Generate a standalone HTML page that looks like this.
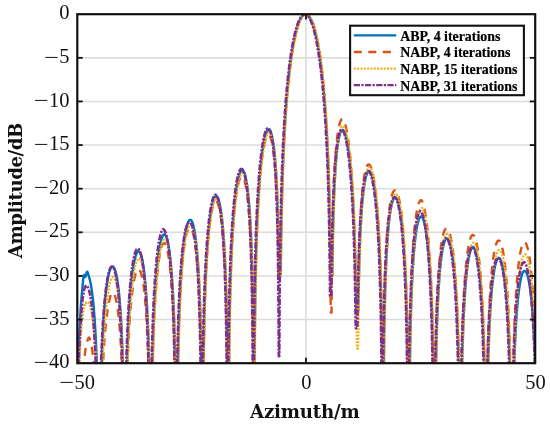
<!DOCTYPE html>
<html lang="en"><head><meta charset="utf-8"><title>Azimuth profile</title>
<style>html,body{margin:0;padding:0;background:#fff}svg{display:block}.tk{font-family:"Liberation Serif",serif;font-size:20.5px;fill:#111}.lb{font-family:"DejaVu Serif","Liberation Serif",serif;font-weight:bold;font-size:18.2px;fill:#111}.lg{font-family:"Liberation Serif",serif;font-weight:bold;font-size:13.9px;fill:#000;stroke:#000;stroke-width:0.2px}</style></head><body>
<svg width="550" height="425" viewBox="0 0 550 425">
<rect width="550" height="425" fill="#fff"/>
<defs><clipPath id="ax"><rect x="77.30" y="14.20" width="457.90" height="349.00"/></clipPath></defs>
<g stroke="#dcdcdc" stroke-width="1.6" fill="none">
<line x1="77.3" y1="57.83" x2="535.2" y2="57.83"/>
<line x1="77.3" y1="101.45" x2="535.2" y2="101.45"/>
<line x1="77.3" y1="145.07" x2="535.2" y2="145.07"/>
<line x1="77.3" y1="188.70" x2="535.2" y2="188.70"/>
<line x1="77.3" y1="232.32" x2="535.2" y2="232.32"/>
<line x1="77.3" y1="275.95" x2="535.2" y2="275.95"/>
<line x1="77.3" y1="319.57" x2="535.2" y2="319.57"/>
<line x1="306.00" y1="14.2" x2="306.00" y2="363.2"/>
</g>
<g clip-path="url(#ax)" fill="none" stroke-width="2.4" stroke-linejoin="round">
<polyline stroke="#0072BD" points="76.30,424.27 76.55,424.27 76.80,424.27 77.05,424.27 77.30,422.19 77.55,403.68 77.80,388.88 78.05,376.58 78.30,366.09 78.55,356.96 78.80,348.91 79.05,341.73 79.30,335.27 79.55,329.42 79.80,324.10 80.05,319.23 80.30,314.77 80.55,310.66 80.80,306.88 81.05,303.38 81.30,300.15 81.55,297.13 81.80,294.29 82.05,291.56 82.30,288.86 82.55,286.13 82.80,283.40 83.05,280.78 83.30,278.46 83.55,276.67 83.80,275.53 84.05,275.04 84.30,275.09 84.55,275.54 84.80,276.19 85.05,276.78 85.30,277.01 85.55,276.66 85.80,275.78 86.05,274.87 86.30,273.68 86.55,272.72 86.80,272.05 87.05,271.70 87.30,271.71 87.55,272.08 87.80,272.74 88.05,273.58 88.30,274.48 88.55,275.36 88.80,276.20 89.05,277.01 89.30,277.84 89.55,278.71 89.80,279.64 90.05,280.66 90.30,281.76 90.55,282.94 90.80,284.22 91.05,285.60 91.30,287.07 91.55,288.65 91.80,290.33 92.05,292.13 92.30,294.05 92.55,296.09 92.80,298.26 93.05,300.58 93.30,303.04 93.55,305.67 93.80,308.46 94.05,311.44 94.30,314.63 94.55,318.03 94.80,321.67 95.05,325.57 95.30,329.77 95.55,334.30 95.80,339.19 96.05,344.52 96.30,350.32 96.55,356.70 96.80,363.76 97.05,371.63 97.30,380.51 97.55,390.67 97.80,402.51 98.05,416.67 98.30,424.27 98.55,424.27 98.80,424.27 99.05,424.27 99.30,424.27 99.55,424.27 99.80,424.27 100.05,424.27 100.30,424.27 100.55,409.98 100.80,396.72 101.05,385.48 101.30,375.73 101.55,367.15 101.80,359.49 102.05,352.59 102.30,346.32 102.55,340.58 102.80,335.30 103.05,330.42 103.30,325.90 103.55,321.69 103.80,317.76 104.05,314.09 104.30,310.64 104.55,307.41 104.80,304.37 105.05,301.51 105.30,298.82 105.55,296.29 105.80,293.89 106.05,291.64 106.30,289.52 106.55,287.51 106.80,285.63 107.05,283.85 107.30,282.19 107.55,280.62 107.80,279.15 108.05,277.78 108.30,276.49 108.55,275.30 108.80,274.19 109.05,273.16 109.30,272.22 109.55,271.35 109.80,270.56 110.05,269.85 110.30,269.21 110.55,268.65 110.80,268.16 111.05,267.74 111.30,267.39 111.55,267.11 111.80,266.91 112.05,266.77 112.30,266.67 112.55,266.60 112.80,266.61 113.05,266.69 113.30,266.84 113.55,267.06 113.80,267.35 114.05,267.72 114.30,268.16 114.55,268.67 114.80,269.26 115.05,269.93 115.30,270.68 115.55,271.51 115.80,272.42 116.05,273.42 116.30,274.51 116.55,275.69 116.80,276.97 117.05,278.34 117.30,279.82 117.55,281.40 117.80,283.10 118.05,284.91 118.30,286.85 118.55,288.91 118.80,291.12 119.05,293.47 119.30,295.99 119.55,298.67 119.80,301.53 120.05,304.59 120.30,307.86 120.55,311.38 120.80,315.14 121.05,319.20 121.30,323.58 121.55,328.32 121.80,333.47 122.05,339.09 122.30,345.27 122.55,352.10 122.80,359.72 123.05,368.30 123.30,378.09 123.55,389.48 123.80,403.02 124.05,419.68 124.30,424.27 124.55,424.27 124.80,424.27 125.05,424.27 125.30,424.27 125.55,424.27 125.80,424.27 126.05,418.50 126.30,401.55 126.55,387.71 126.80,376.03 127.05,365.94 127.30,357.07 127.55,349.16 127.80,342.03 128.05,335.56 128.30,329.64 128.55,324.20 128.80,319.16 129.05,314.49 129.30,310.14 129.55,306.08 129.80,302.27 130.05,298.70 130.30,295.35 130.55,292.19 130.80,289.21 131.05,286.41 131.30,283.76 131.55,281.26 131.80,278.90 132.05,276.66 132.30,274.56 132.55,272.57 132.80,270.69 133.05,268.92 133.30,267.25 133.55,265.68 133.80,264.20 134.05,262.82 134.30,261.53 134.55,260.32 134.80,259.19 135.05,258.15 135.30,257.18 135.55,256.30 135.80,255.49 136.05,254.75 136.30,254.09 136.55,253.50 136.80,252.99 137.05,252.54 137.30,252.17 137.55,251.87 137.80,251.64 138.05,251.47 138.30,251.38 138.55,251.36 138.80,251.41 139.05,251.53 139.30,251.72 139.55,251.98 139.80,252.32 140.05,252.73 140.30,253.21 140.55,253.77 140.80,254.41 141.05,255.13 141.30,255.92 141.55,256.81 141.80,257.77 142.05,258.83 142.30,259.97 142.55,261.21 142.80,262.55 143.05,263.99 143.30,265.54 143.55,267.19 143.80,268.97 144.05,270.86 144.30,272.89 144.55,275.05 144.80,277.35 145.05,279.82 145.30,282.45 145.55,285.26 145.80,288.26 146.05,291.47 146.30,294.92 146.55,298.62 146.80,302.60 147.05,306.89 147.30,311.54 147.55,316.59 147.80,322.09 148.05,328.14 148.30,334.81 148.55,342.24 148.80,350.59 149.05,360.10 149.30,371.11 149.55,384.15 149.80,400.06 150.05,420.42 150.30,424.27 150.55,424.27 150.80,424.27 151.05,424.27 151.30,424.27 151.55,424.27 151.80,406.29 152.05,388.52 152.30,374.14 152.55,362.06 152.80,351.67 153.05,342.56 153.30,334.45 153.55,327.17 153.80,320.55 154.05,314.51 154.30,308.96 154.55,303.83 154.80,299.07 155.05,294.64 155.30,290.50 155.55,286.63 155.80,283.00 156.05,279.58 156.30,276.37 156.55,273.34 156.80,270.48 157.05,267.78 157.30,265.23 157.55,262.82 157.80,260.55 158.05,258.40 158.30,256.37 158.55,254.45 158.80,252.63 159.05,250.93 159.30,249.32 159.55,247.80 159.80,246.38 160.05,245.05 160.30,243.81 160.55,242.64 160.80,241.56 161.05,240.57 161.30,239.64 161.55,238.80 161.80,238.03 162.05,237.33 162.30,236.71 162.55,236.16 162.80,235.68 163.05,235.28 163.30,234.94 163.55,234.67 163.80,234.48 164.05,234.41 164.30,234.40 164.55,234.47 164.80,234.60 165.05,234.81 165.30,235.09 165.55,235.44 165.80,235.86 166.05,236.36 166.30,236.93 166.55,237.59 166.80,238.32 167.05,239.13 167.30,240.02 167.55,241.00 167.80,242.07 168.05,243.22 168.30,244.47 168.55,245.82 168.80,247.27 169.05,248.82 169.30,250.48 169.55,252.26 169.80,254.16 170.05,256.19 170.30,258.35 170.55,260.65 170.80,263.11 171.05,265.74 171.30,268.54 171.55,271.53 171.80,274.73 172.05,278.15 172.30,281.82 172.55,285.77 172.80,290.03 173.05,294.63 173.30,299.62 173.55,305.06 173.80,311.01 174.05,317.58 174.30,324.87 174.55,333.05 174.80,342.33 175.05,353.04 175.30,365.64 175.55,380.91 175.80,400.22 176.05,424.27 176.30,424.27 176.55,424.27 176.80,424.27 177.05,424.27 177.30,419.66 177.55,394.93 177.80,376.31 178.05,361.39 178.30,348.94 178.55,338.27 178.80,328.95 179.05,320.69 179.30,313.28 179.55,306.56 179.80,300.44 180.05,294.82 180.30,289.64 180.55,284.83 180.80,280.36 181.05,276.19 181.30,272.29 181.55,268.64 181.80,265.21 182.05,261.98 182.30,258.94 182.55,256.07 182.80,253.36 183.05,250.81 183.30,248.40 183.55,246.12 183.80,243.97 184.05,241.94 184.30,240.02 184.55,238.21 184.80,236.50 185.05,234.90 185.30,233.39 185.55,231.97 185.80,230.65 186.05,229.41 186.30,228.25 186.55,227.18 186.80,226.19 187.05,225.27 187.30,224.43 187.55,223.67 187.80,222.98 188.05,222.37 188.30,221.82 188.55,221.35 188.80,220.95 189.05,220.62 189.30,220.36 189.55,220.17 189.80,220.00 190.05,219.89 190.30,219.86 190.55,219.89 190.80,220.00 191.05,220.18 191.30,220.43 191.55,220.75 191.80,221.15 192.05,221.63 192.30,222.18 192.55,222.80 192.80,223.51 193.05,224.30 193.30,225.18 193.55,226.14 193.80,227.19 194.05,228.34 194.30,229.58 194.55,230.92 194.80,232.36 195.05,233.91 195.30,235.58 195.55,237.37 195.80,239.28 196.05,241.33 196.30,243.52 196.55,245.85 196.80,248.36 197.05,251.03 197.30,253.89 197.55,256.96 197.80,260.25 198.05,263.78 198.30,267.59 198.55,271.69 198.80,276.13 199.05,280.95 199.30,286.20 199.55,291.96 199.80,298.30 200.05,305.35 200.30,313.24 200.55,322.19 200.80,332.49 201.05,344.57 201.30,359.13 201.55,377.38 201.80,401.75 202.05,424.27 202.30,424.27 202.55,424.27 202.80,424.27 203.05,406.65 203.30,380.09 203.55,360.41 203.80,344.77 204.05,331.80 204.30,320.73 204.55,311.07 204.80,302.53 205.05,294.86 205.30,287.93 205.55,281.60 205.80,275.79 206.05,270.43 206.30,265.46 206.55,260.83 206.80,256.51 207.05,252.47 207.30,248.67 207.55,245.10 207.80,241.73 208.05,238.56 208.30,235.56 208.55,232.73 208.80,230.05 209.05,227.52 209.30,225.12 209.55,222.84 209.80,220.69 210.05,218.65 210.30,216.73 210.55,214.90 210.80,213.18 211.05,211.55 211.30,210.02 211.55,208.58 211.80,207.22 212.05,205.95 212.30,204.76 212.55,203.66 212.80,202.63 213.05,201.67 213.30,200.80 213.55,199.99 213.80,199.26 214.05,198.61 214.30,198.02 214.55,197.51 214.80,197.06 215.05,196.69 215.30,196.38 215.55,196.18 215.80,196.06 216.05,196.01 216.30,196.04 216.55,196.13 216.80,196.29 217.05,196.52 217.30,196.83 217.55,197.21 217.80,197.67 218.05,198.20 218.30,198.81 218.55,199.50 218.80,200.27 219.05,201.12 219.30,202.07 219.55,203.09 219.80,204.22 220.05,205.43 220.30,206.75 220.55,208.16 220.80,209.69 221.05,211.33 221.30,213.08 221.55,214.96 221.80,216.98 222.05,219.13 222.30,221.43 222.55,223.89 222.80,226.52 223.05,229.34 223.30,232.36 223.55,235.59 223.80,239.06 224.05,242.80 224.30,246.83 224.55,251.19 224.80,255.92 225.05,261.07 225.30,266.71 225.55,272.92 225.80,279.80 226.05,287.50 226.30,296.21 226.55,306.20 226.80,317.86 227.05,331.84 227.30,349.20 227.55,372.03 227.80,405.21 228.05,424.27 228.30,424.27 228.55,424.27 228.80,389.04 229.05,360.46 229.30,339.70 229.55,323.37 229.80,309.93 230.05,298.50 230.30,288.57 230.55,279.81 230.80,271.96 231.05,264.87 231.30,258.41 231.55,252.49 231.80,247.02 232.05,241.96 232.30,237.24 232.55,232.84 232.80,228.72 233.05,224.86 233.30,221.22 233.55,217.80 233.80,214.56 234.05,211.51 234.30,208.62 234.55,205.89 234.80,203.30 235.05,200.85 235.30,198.52 235.55,196.32 235.80,194.23 236.05,192.26 236.30,190.39 236.55,188.62 236.80,186.94 237.05,185.36 237.30,183.88 237.55,182.47 237.80,181.15 238.05,179.92 238.30,178.76 238.55,177.69 238.80,176.69 239.05,175.76 239.30,174.91 239.55,174.13 239.80,173.43 240.05,172.79 240.30,172.23 240.55,171.73 240.80,171.31 241.05,170.95 241.30,170.67 241.55,170.45 241.80,170.30 242.05,170.22 242.30,170.20 242.55,170.25 242.80,170.38 243.05,170.57 243.30,170.84 243.55,171.19 243.80,171.60 244.05,172.10 244.30,172.67 244.55,173.33 244.80,174.06 245.05,174.89 245.30,175.80 245.55,176.80 245.80,177.89 246.05,179.08 246.30,180.37 246.55,181.77 246.80,183.28 247.05,184.90 247.30,186.65 247.55,188.53 247.80,190.54 248.05,192.71 248.30,195.02 248.55,197.51 248.80,200.18 249.05,203.04 249.30,206.11 249.55,209.42 249.80,212.99 250.05,216.84 250.30,221.02 250.55,225.55 250.80,230.49 251.05,235.91 251.30,241.88 251.55,248.49 251.80,255.90 252.05,264.26 252.30,273.84 252.55,285.01 252.80,298.33 253.05,314.77 253.30,336.12 253.55,366.42 253.80,418.54 254.05,424.27 254.30,417.79 254.55,364.91 254.80,333.86 255.05,311.76 255.30,294.57 255.55,280.50 255.80,268.58 256.05,258.25 256.30,249.13 256.55,240.98 256.80,233.61 257.05,226.89 257.30,220.72 257.55,215.02 257.80,209.73 258.05,204.81 258.30,200.20 258.55,195.87 258.80,191.81 259.05,187.97 259.30,184.35 259.55,180.93 259.80,177.68 260.05,174.60 260.30,171.68 260.55,168.90 260.80,166.26 261.05,163.75 261.30,161.36 261.55,159.09 261.80,156.92 262.05,154.86 262.30,152.90 262.55,151.03 262.80,149.26 263.05,147.58 263.30,145.98 263.55,144.47 263.80,143.04 264.05,141.69 264.30,140.41 264.55,139.21 264.80,138.08 265.05,137.03 265.30,136.05 265.55,135.13 265.80,134.29 266.05,133.52 266.30,132.81 266.55,132.17 266.80,131.60 267.05,131.09 267.30,130.66 267.55,130.29 267.80,129.98 268.05,129.75 268.30,129.58 268.55,129.50 268.80,129.48 269.05,129.53 269.30,129.66 269.55,129.85 269.80,130.12 270.05,130.47 270.30,130.89 270.55,131.40 270.80,131.99 271.05,132.66 271.30,133.41 271.55,134.26 271.80,135.20 272.05,136.24 272.30,137.38 272.55,138.63 272.80,139.99 273.05,141.47 273.30,143.07 273.55,144.81 273.80,146.69 274.05,148.72 274.30,150.91 274.55,153.27 274.80,155.83 275.05,158.59 275.30,161.58 275.55,164.81 275.80,168.33 276.05,172.15 276.30,176.32 276.55,180.88 276.80,185.90 277.05,191.45 277.30,197.62 277.55,204.54 277.80,212.38 278.05,221.38 278.30,231.87 278.55,244.37 278.80,259.75 279.05,275.95 279.30,275.95 279.55,275.95 279.80,275.95 280.05,275.95 280.30,275.95 280.55,275.95 280.80,261.45 281.05,243.08 281.30,228.10 281.55,215.41 281.80,204.40 282.05,194.65 282.30,185.91 282.55,177.98 282.80,170.71 283.05,164.01 283.30,157.78 283.55,151.97 283.80,146.52 284.05,141.39 284.30,136.54 284.55,131.94 284.80,127.58 285.05,123.42 285.30,119.45 285.55,115.66 285.80,112.02 286.05,108.54 286.30,105.19 286.55,101.97 286.80,98.87 287.05,95.88 287.30,92.99 287.55,90.21 287.80,87.52 288.05,84.92 288.30,82.40 288.55,79.96 288.80,77.60 289.05,75.31 289.30,73.09 289.55,70.93 289.80,68.84 290.05,66.82 290.30,64.85 290.55,62.93 290.80,61.07 291.05,59.27 291.30,57.52 291.55,55.81 291.80,54.15 292.05,52.54 292.30,50.98 292.55,49.46 292.80,47.98 293.05,46.54 293.30,45.15 293.55,43.79 293.80,42.47 294.05,41.19 294.30,39.95 294.55,38.74 294.80,37.57 295.05,36.43 295.30,35.33 295.55,34.25 295.80,33.22 296.05,32.21 296.30,31.24 296.55,30.29 296.80,29.38 297.05,28.50 297.30,27.64 297.55,26.82 297.80,26.02 298.05,25.26 298.30,24.52 298.55,23.80 298.80,23.12 299.05,22.46 299.30,21.83 299.55,21.23 299.80,20.65 300.05,20.10 300.30,19.58 300.55,19.08 300.80,18.60 301.05,18.15 301.30,17.73 301.55,17.33 301.80,16.95 302.05,16.60 302.30,16.27 302.55,15.97 302.80,15.69 303.05,15.44 303.30,15.21 303.55,15.00 303.80,14.82 304.05,14.66 304.30,14.53 304.55,14.41 304.80,14.33 305.05,14.26 305.30,14.22 305.55,14.20 305.80,14.20 306.05,14.23 306.30,14.28 306.55,14.35 306.80,14.45 307.05,14.57 307.30,14.71 307.55,14.88 307.80,15.07 308.05,15.28 308.30,15.52 308.55,15.78 308.80,16.07 309.05,16.38 309.30,16.71 309.55,17.07 309.80,17.45 310.05,17.86 310.30,18.29 310.55,18.75 310.80,19.23 311.05,19.74 311.30,20.28 311.55,20.84 311.80,21.42 312.05,22.03 312.30,22.67 312.55,23.34 312.80,24.03 313.05,24.75 313.30,25.50 313.55,26.27 313.80,27.08 314.05,27.91 314.30,28.77 314.55,29.66 314.80,30.58 315.05,31.54 315.30,32.52 315.55,33.54 315.80,34.58 316.05,35.66 316.30,36.78 316.55,37.93 316.80,39.11 317.05,40.33 317.30,41.58 317.55,42.87 317.80,44.20 318.05,45.57 318.30,46.97 318.55,48.42 318.80,49.91 319.05,51.45 319.30,53.02 319.55,54.64 319.80,56.31 320.05,58.03 320.30,59.80 320.55,61.62 320.80,63.49 321.05,65.41 321.30,67.40 321.55,69.44 321.80,71.55 322.05,73.72 322.30,75.95 322.55,78.26 322.80,80.64 323.05,83.10 323.30,85.64 323.55,88.26 323.80,90.97 324.05,93.78 324.30,96.69 324.55,99.70 324.80,102.83 325.05,106.08 325.30,109.45 325.55,112.97 325.80,116.64 326.05,120.47 326.30,124.48 326.55,128.68 326.80,133.09 327.05,137.74 327.30,142.64 327.55,147.84 327.80,153.36 328.05,159.25 328.30,165.57 328.55,172.38 328.80,179.78 329.05,187.86 329.30,196.79 329.55,206.77 329.80,218.08 330.05,231.17 330.30,246.73 330.55,265.97 330.80,275.95 331.05,275.95 331.30,275.95 331.55,275.95 331.80,275.95 332.05,275.95 332.30,275.44 332.55,256.70 332.80,241.99 333.05,229.95 333.30,219.80 333.55,211.06 333.80,203.42 334.05,196.66 334.30,190.63 334.55,185.19 334.80,180.27 335.05,175.79 335.30,171.70 335.55,167.95 335.80,164.50 336.05,161.32 336.30,158.38 336.55,155.66 336.80,153.15 337.05,150.82 337.30,148.67 337.55,146.67 337.80,144.83 338.05,143.12 338.30,141.55 338.55,140.09 338.80,138.76 339.05,137.54 339.30,136.42 339.55,135.40 339.80,134.48 340.05,133.66 340.30,132.92 340.55,132.27 340.80,131.70 341.05,131.22 341.30,130.81 341.55,130.48 341.80,130.23 342.05,130.05 342.30,129.94 342.55,129.91 342.80,129.94 343.05,130.04 343.30,130.23 343.55,130.48 343.80,130.80 344.05,131.19 344.30,131.65 344.55,132.17 344.80,132.76 345.05,133.41 345.30,134.14 345.55,134.93 345.80,135.79 346.05,136.72 346.30,137.72 346.55,138.80 346.80,139.94 347.05,141.16 347.30,142.46 347.55,143.83 347.80,145.28 348.05,146.82 348.30,148.43 348.55,150.14 348.80,151.93 349.05,153.82 349.30,155.80 349.55,157.89 349.80,160.08 350.05,162.38 350.30,164.80 350.55,167.34 350.80,170.01 351.05,172.82 351.30,175.78 351.55,178.89 351.80,182.18 352.05,185.65 352.30,189.31 352.55,193.19 352.80,197.31 353.05,201.70 353.30,206.37 353.55,211.37 353.80,216.74 354.05,222.53 354.30,228.81 354.55,235.65 354.80,243.17 355.05,251.51 355.30,260.85 355.55,271.47 355.80,283.77 356.05,298.37 356.30,310.85 356.55,310.85 356.80,310.85 357.05,310.85 357.30,310.85 357.55,310.85 357.80,310.85 358.05,310.85 358.30,310.85 358.55,296.15 358.80,283.32 359.05,272.51 359.30,263.21 359.55,255.05 359.80,247.83 360.05,241.35 360.30,235.51 360.55,230.20 360.80,225.34 361.05,220.89 361.30,216.79 361.55,213.00 361.80,209.49 362.05,206.23 362.30,203.20 362.55,200.39 362.80,197.76 363.05,195.31 363.30,193.03 363.55,190.91 363.80,188.92 364.05,187.08 364.30,185.36 364.55,183.76 364.80,182.28 365.05,180.91 365.30,179.64 365.55,178.47 365.80,177.40 366.05,176.42 366.30,175.54 366.55,174.74 366.80,174.02 367.05,173.39 367.30,172.83 367.55,172.36 367.80,171.96 368.05,171.63 368.30,171.38 368.55,171.20 368.80,171.10 369.05,171.06 369.30,171.10 369.55,171.20 369.80,171.37 370.05,171.60 370.30,171.91 370.55,172.28 370.80,172.72 371.05,173.24 371.30,173.82 371.55,174.47 371.80,175.20 372.05,175.99 372.30,176.86 372.55,177.81 372.80,178.83 373.05,179.92 373.30,181.10 373.55,182.35 373.80,183.69 374.05,185.12 374.30,186.63 374.55,188.23 374.80,189.93 375.05,191.72 375.30,193.62 375.55,195.62 375.80,197.73 376.05,199.96 376.30,202.31 376.55,204.80 376.80,207.42 377.05,210.18 377.30,213.11 377.55,216.20 377.80,219.48 378.05,222.95 378.30,226.63 378.55,230.55 378.80,234.73 379.05,239.19 379.30,243.98 379.55,249.12 379.80,254.68 380.05,260.71 380.30,267.29 380.55,274.52 380.80,282.54 381.05,291.52 381.30,301.72 381.55,313.50 381.80,327.45 382.05,344.50 382.30,366.48 382.55,397.40 382.80,424.27 383.05,424.27 383.30,424.27 383.55,398.39 383.80,367.97 384.05,346.50 384.30,329.94 384.55,316.49 384.80,305.21 385.05,295.51 385.30,287.02 385.55,279.50 385.80,272.77 386.05,266.69 386.30,261.15 386.55,256.10 386.80,251.45 387.05,247.16 387.30,243.20 387.55,239.52 387.80,236.10 388.05,232.92 388.30,229.94 388.55,227.17 388.80,224.58 389.05,222.15 389.30,219.89 389.55,217.77 389.80,215.79 390.05,213.94 390.30,212.21 390.55,210.60 390.80,209.10 391.05,207.70 391.30,206.41 391.55,205.22 391.80,204.12 392.05,203.12 392.30,202.20 392.55,201.36 392.80,200.61 393.05,199.94 393.30,199.35 393.55,198.84 393.80,198.40 394.05,198.04 394.30,197.75 394.55,197.54 394.80,197.39 395.05,197.32 395.30,197.32 395.55,197.38 395.80,197.52 396.05,197.73 396.30,198.00 396.55,198.34 396.80,198.75 397.05,199.24 397.30,199.79 397.55,200.42 397.80,201.11 398.05,201.88 398.30,202.73 398.55,203.65 398.80,204.65 399.05,205.73 399.30,206.89 399.55,208.13 399.80,209.45 400.05,210.87 400.30,212.37 400.55,213.97 400.80,215.67 401.05,217.46 401.30,219.37 401.55,221.38 401.80,223.51 402.05,225.76 402.30,228.14 402.55,230.66 402.80,233.32 403.05,236.14 403.30,239.12 403.55,242.29 403.80,245.64 404.05,249.21 404.30,253.01 404.55,257.06 404.80,261.39 405.05,266.04 405.30,271.04 405.55,276.44 405.80,282.30 406.05,288.69 406.30,295.72 406.55,303.50 406.80,312.20 407.05,322.06 407.30,333.42 407.55,346.81 407.80,363.07 408.05,383.77 408.30,412.29 408.55,424.27 408.80,424.27 409.05,424.27 409.30,424.27 409.55,394.97 409.80,372.08 410.05,354.66 410.30,340.62 410.55,328.90 410.80,318.85 411.05,310.09 411.30,302.33 411.55,295.39 411.80,289.12 412.05,283.43 412.30,278.22 412.55,273.43 412.80,269.02 413.05,264.93 413.30,261.14 413.55,257.61 413.80,254.32 414.05,251.25 414.30,248.38 414.55,245.69 414.80,243.18 415.05,240.82 415.30,238.62 415.55,236.55 415.80,234.62 416.05,232.81 416.30,231.12 416.55,229.54 416.80,228.07 417.05,226.71 417.30,225.44 417.55,224.27 417.80,223.19 418.05,222.20 418.30,221.29 418.55,220.47 418.80,219.73 419.05,219.07 419.30,218.49 419.55,217.99 419.80,217.56 420.05,217.20 420.30,216.92 420.55,216.71 420.80,216.57 421.05,216.50 421.30,216.50 421.55,216.58 421.80,216.73 422.05,217.01 422.30,217.36 422.55,217.78 422.80,218.27 423.05,218.83 423.30,219.47 423.55,220.17 423.80,220.95 424.05,221.80 424.30,222.73 424.55,223.74 424.80,224.82 425.05,225.99 425.30,227.24 425.55,228.57 425.80,229.99 426.05,231.50 426.30,233.11 426.55,234.81 426.80,236.61 427.05,238.52 427.30,240.53 427.55,242.66 427.80,244.92 428.05,247.30 428.30,249.81 428.55,252.47 428.80,255.29 429.05,258.26 429.30,261.42 429.55,264.76 429.80,268.31 430.05,272.09 430.30,276.12 430.55,280.42 430.80,285.03 431.05,289.98 431.30,295.33 431.55,301.12 431.80,307.43 432.05,314.34 432.30,321.99 432.55,330.52 432.80,340.16 433.05,351.22 433.30,364.17 433.55,379.79 433.80,399.45 434.05,424.27 434.30,424.27 434.55,424.27 434.80,424.27 435.05,424.27 435.30,421.02 435.55,396.64 435.80,378.37 436.05,363.80 436.30,351.70 436.55,341.39 436.80,332.42 437.05,324.51 437.30,317.45 437.55,311.10 437.80,305.33 438.05,300.06 438.30,295.23 438.55,290.77 438.80,286.66 439.05,282.84 439.30,279.30 439.55,276.00 439.80,272.92 440.05,270.04 440.30,267.35 440.55,264.84 440.80,262.49 441.05,260.29 441.30,258.23 441.55,256.31 441.80,254.51 442.05,252.83 442.30,251.27 442.55,249.81 442.80,248.46 443.05,247.21 443.30,246.05 443.55,244.99 443.80,244.02 444.05,243.13 444.30,242.33 444.55,241.61 444.80,240.97 445.05,240.41 445.30,239.93 445.55,239.52 445.80,239.19 446.05,238.93 446.30,238.74 446.55,238.63 446.80,238.58 447.05,238.61 447.30,238.70 447.55,238.87 447.80,239.00 448.05,239.19 448.30,239.46 448.55,239.80 448.80,240.21 449.05,240.69 449.30,241.24 449.55,241.86 449.80,242.56 450.05,243.34 450.30,244.19 450.55,245.12 450.80,246.13 451.05,247.23 451.30,248.41 451.55,249.67 451.80,251.03 452.05,252.47 452.30,254.02 452.55,255.66 452.80,257.41 453.05,259.27 453.30,261.24 453.55,263.33 453.80,265.54 454.05,267.90 454.30,270.39 454.55,273.03 454.80,275.84 455.05,278.82 455.30,281.99 455.55,285.36 455.80,288.96 456.05,292.80 456.30,296.91 456.55,301.31 456.80,306.06 457.05,311.18 457.30,316.75 457.55,322.81 457.80,329.46 458.05,336.82 458.30,345.02 458.55,354.28 458.80,364.89 459.05,377.28 459.30,392.14 459.55,410.71 459.80,424.27 460.05,424.27 460.30,424.27 460.55,424.27 460.80,424.27 461.05,424.27 461.30,415.58 461.55,396.21 461.80,380.89 462.05,368.23 462.30,357.47 462.55,348.13 462.80,339.89 463.05,332.54 463.30,325.92 463.55,319.90 463.80,314.41 464.05,309.36 464.30,304.70 464.55,300.39 464.80,296.38 465.05,292.65 465.30,289.17 465.55,285.92 465.80,282.87 466.05,280.01 466.30,277.33 466.55,274.82 466.80,272.46 467.05,270.24 467.30,268.15 467.55,266.20 467.80,264.37 468.05,262.65 468.30,261.04 468.55,259.54 468.80,258.13 469.05,256.83 469.30,255.62 469.55,254.49 469.80,253.46 470.05,252.51 470.30,251.64 470.55,250.86 470.80,250.15 471.05,249.52 471.30,248.97 471.55,248.49 471.80,248.08 472.05,247.75 472.30,247.49 472.55,247.30 472.80,247.18 473.05,247.13 473.30,247.16 473.55,247.28 473.80,247.49 474.05,247.76 474.30,248.10 474.55,248.52 474.80,249.01 475.05,249.57 475.30,250.20 475.55,250.91 475.80,251.69 476.05,252.55 476.30,253.49 476.55,254.51 476.80,255.61 477.05,256.79 477.30,258.06 477.55,259.42 477.80,260.87 478.05,262.42 478.30,264.06 478.55,265.81 478.80,267.67 479.05,269.64 479.30,271.73 479.55,273.95 479.80,276.29 480.05,278.78 480.30,281.42 480.55,284.21 480.80,287.18 481.05,290.34 481.30,293.69 481.55,297.26 481.80,301.08 482.05,305.15 482.30,309.52 482.55,314.22 482.80,319.29 483.05,324.78 483.30,330.76 483.55,337.32 483.80,344.54 484.05,352.59 484.30,361.64 484.55,371.97 484.80,383.98 485.05,398.31 485.30,416.02 485.55,424.27 485.80,424.27 486.05,424.27 486.30,424.27 486.55,424.27 486.80,424.27 487.05,424.27 487.30,409.31 487.55,393.34 487.80,380.24 488.05,369.17 488.30,359.60 488.55,351.19 488.80,343.70 489.05,336.97 489.30,330.87 489.55,325.30 489.80,320.20 490.05,315.49 490.30,311.14 490.55,307.10 490.80,303.34 491.05,299.84 491.30,296.56 491.55,293.50 491.80,290.63 492.05,287.95 492.30,285.42 492.55,283.06 492.80,280.84 493.05,278.75 493.30,276.80 493.55,274.97 493.80,273.26 494.05,271.65 494.30,270.15 494.55,268.76 494.80,267.46 495.05,266.26 495.30,265.14 495.55,264.12 495.80,263.18 496.05,262.32 496.30,261.55 496.55,260.85 496.80,260.23 497.05,259.69 497.30,259.22 497.55,258.83 497.80,258.51 498.05,258.26 498.30,258.09 498.55,257.98 498.80,257.94 499.05,257.98 499.30,258.11 499.55,258.31 499.80,258.59 500.05,258.94 500.30,259.36 500.55,259.86 500.80,260.42 501.05,261.06 501.30,261.77 501.55,262.56 501.80,263.42 502.05,264.36 502.30,265.38 502.55,266.48 502.80,267.67 503.05,268.94 503.30,270.30 503.55,271.75 503.80,273.30 504.05,274.95 504.30,276.70 504.55,278.55 504.80,280.52 505.05,282.60 505.30,284.81 505.55,287.15 505.80,289.63 506.05,292.26 506.30,295.04 506.55,297.99 506.80,301.13 507.05,304.46 507.30,308.01 507.55,311.79 507.80,315.83 508.05,320.16 508.30,324.81 508.55,329.82 508.80,335.25 509.05,341.14 509.30,347.59 509.55,354.70 509.80,362.58 510.05,371.44 510.30,381.51 510.55,393.16 510.80,406.98 511.05,423.91 511.30,424.27 511.55,424.27 511.80,424.27 512.05,424.27 512.30,424.27 512.55,424.27 512.80,424.27 513.05,424.27 513.30,408.23 513.55,394.67 513.80,383.27 514.05,373.45 514.30,364.85 514.55,357.21 514.80,350.36 515.05,344.16 515.30,338.51 515.55,333.34 515.80,328.58 516.05,324.18 516.30,320.10 516.55,316.31 516.80,312.78 517.05,309.49 517.30,306.40 517.55,303.52 517.80,300.82 518.05,298.29 518.30,295.91 518.55,293.68 518.80,291.60 519.05,289.64 519.30,287.81 519.55,286.09 519.80,284.49 520.05,282.99 520.30,281.59 520.55,280.30 520.80,279.10 521.05,277.99 521.30,276.97 521.55,276.03 521.80,275.18 522.05,274.41 522.30,273.72 522.55,273.11 522.80,272.58 523.05,272.12 523.30,271.73 523.55,271.42 523.80,271.18 524.05,271.01 524.30,270.91 524.55,270.89 524.80,270.93 525.05,271.03 525.30,271.18 525.55,271.40 525.80,271.69 526.05,272.05 526.30,272.48 526.55,272.99 526.80,273.56 527.05,274.22 527.30,274.94 527.55,275.75 527.80,276.63 528.05,277.59 528.30,278.63 528.55,279.75 528.80,280.96 529.05,282.26 529.30,283.65 529.55,285.13 529.80,286.71 530.05,288.39 530.30,290.18 530.55,292.08 530.80,294.10 531.05,296.24 531.30,298.51 531.55,300.91 531.80,303.46 532.05,306.17 532.30,309.04 532.55,312.10 532.80,315.34 533.05,318.80 533.30,322.49 533.55,326.43 533.80,330.66 534.05,335.20 534.30,340.09 534.55,345.38 534.80,351.13 535.05,357.42 535.30,364.34 535.55,372.01 535.80,380.61 536.05,390.37"/>
<polyline stroke="#D95319" stroke-dasharray="8 6.5" points="76.30,424.27 76.55,424.27 76.80,424.27 77.05,424.27 77.30,424.27 77.55,424.27 77.80,424.27 78.05,424.27 78.30,424.27 78.55,424.27 78.80,424.27 79.05,424.27 79.30,424.27 79.55,424.27 79.80,424.27 80.05,424.27 80.30,424.27 80.55,419.93 80.80,414.42 81.05,409.21 81.30,404.27 81.55,399.57 81.80,395.10 82.05,390.85 82.30,386.79 82.55,382.93 82.80,379.24 83.05,375.73 83.30,372.37 83.55,369.18 83.80,366.13 84.05,363.23 84.30,360.48 84.55,357.86 84.80,355.38 85.05,353.03 85.30,350.81 85.55,348.73 85.80,346.77 86.05,345.80 86.30,344.70 86.55,343.68 86.80,342.73 87.05,341.84 87.30,341.03 87.55,340.29 87.80,339.63 88.05,339.03 88.30,338.51 88.55,338.07 88.80,337.71 89.05,337.42 89.30,337.77 89.55,338.33 89.80,338.97 90.05,339.70 90.30,340.51 90.55,341.43 90.80,342.44 91.05,343.55 91.30,344.76 91.55,346.09 91.80,347.53 92.05,349.09 92.30,350.79 92.55,352.61 92.80,354.58 93.05,356.71 93.30,358.99 93.55,361.46 93.80,364.11 94.05,366.98 94.30,370.07 94.55,373.41 94.80,377.02 95.05,380.94 95.30,385.21 95.55,389.87 95.80,394.97 96.05,400.59 96.30,406.82 96.55,413.78 96.80,421.63 97.05,424.27 97.30,424.27 97.55,424.27 97.80,424.27 98.05,424.27 98.30,424.27 98.55,424.27 98.80,424.27 99.05,424.27 99.30,424.27 99.55,424.27 99.80,424.27 100.05,424.27 100.30,424.27 100.55,424.27 100.80,422.11 101.05,412.53 101.30,404.01 101.55,396.34 101.80,389.37 102.05,383.00 102.30,377.12 102.55,371.68 102.80,366.62 103.05,361.90 103.30,357.47 103.55,353.32 103.80,349.41 104.05,345.72 104.30,342.24 104.55,338.95 104.80,335.83 105.05,332.87 105.30,330.06 105.55,327.39 105.80,324.86 106.05,322.46 106.30,320.18 106.55,318.01 106.80,315.94 107.05,313.99 107.30,312.13 107.55,310.37 107.80,308.70 108.05,307.13 108.30,305.63 108.55,304.23 108.80,302.90 109.05,301.66 109.30,300.50 109.55,299.41 109.80,298.40 110.05,297.46 110.30,296.60 110.55,295.80 110.80,295.08 111.05,294.44 111.30,293.86 111.55,293.35 111.80,292.91 112.05,292.73 112.30,292.62 112.55,292.58 112.80,292.61 113.05,292.71 113.30,292.88 113.55,293.13 113.80,293.45 114.05,293.84 114.30,294.31 114.55,294.86 114.80,295.48 115.05,296.19 115.30,296.97 115.55,297.85 115.80,298.81 116.05,299.85 116.30,301.00 116.55,302.23 116.80,303.57 117.05,305.01 117.30,306.57 117.55,308.23 117.80,310.02 118.05,311.93 118.30,313.98 118.55,316.16 118.80,318.50 119.05,321.01 119.30,323.68 119.55,326.54 119.80,329.61 120.05,332.90 120.30,336.44 120.55,340.24 120.80,344.35 121.05,348.79 121.30,353.61 121.55,358.87 121.80,364.63 122.05,370.97 122.30,378.02 122.55,385.92 122.80,394.88 123.05,405.18 123.30,417.27 123.55,424.27 123.80,424.27 124.05,424.27 124.30,424.27 124.55,424.27 124.80,424.27 125.05,424.27 125.30,424.27 125.55,424.27 125.80,424.27 126.05,417.54 126.30,404.58 126.55,393.52 126.80,383.87 127.05,375.33 127.30,367.68 127.55,360.75 127.80,354.44 128.05,348.64 128.30,343.29 128.55,338.33 128.80,333.71 129.05,329.41 129.30,325.37 129.55,321.59 129.80,318.03 130.05,314.68 130.30,311.52 130.55,308.54 130.80,305.72 131.05,303.06 131.30,300.54 131.55,298.15 131.80,295.89 132.05,293.76 132.30,291.74 132.55,289.83 132.80,288.02 133.05,286.32 133.30,284.71 133.55,283.19 133.80,281.77 134.05,280.43 134.30,279.18 134.55,278.01 134.80,276.93 135.05,275.92 135.30,274.99 135.55,274.13 135.80,273.35 136.05,272.64 136.30,272.01 136.55,271.44 136.80,270.95 137.05,270.53 137.30,270.18 137.55,269.90 137.80,269.68 138.05,269.52 138.30,269.43 138.55,269.42 138.80,269.47 139.05,269.60 139.30,269.80 139.55,270.07 139.80,270.41 140.05,270.84 140.30,271.33 140.55,271.91 140.80,272.57 141.05,273.31 141.30,274.13 141.55,275.04 141.80,276.03 142.05,277.12 142.30,278.31 142.55,279.60 142.80,280.98 143.05,282.48 143.30,284.09 143.55,285.82 143.80,287.67 144.05,289.66 144.30,291.78 144.55,294.06 144.80,296.49 145.05,299.10 145.30,301.89 145.55,304.88 145.80,308.09 146.05,311.54 146.30,315.26 146.55,319.27 146.80,323.60 147.05,328.31 147.30,333.44 147.55,339.06 147.80,345.25 148.05,352.12 148.30,359.80 148.55,368.49 148.80,378.46 149.05,390.11 149.30,404.07 149.55,421.42 149.80,424.27 150.05,424.27 150.30,424.27 150.55,424.27 150.80,424.27 151.05,424.27 151.30,424.27 151.55,411.81 151.80,395.47 152.05,382.02 152.30,370.58 152.55,360.65 152.80,351.88 153.05,344.02 153.30,336.93 153.55,330.46 153.80,324.53 154.05,319.06 154.30,313.99 154.55,309.28 154.80,304.88 155.05,300.75 155.30,296.89 155.55,293.25 155.80,289.82 156.05,286.59 156.30,283.54 156.55,280.65 156.80,277.92 157.05,275.34 157.30,272.89 157.55,270.57 157.80,268.38 158.05,266.30 158.30,264.33 158.55,262.47 158.80,260.71 159.05,259.04 159.30,257.48 159.55,256.00 159.80,254.61 160.05,253.30 160.30,252.08 160.55,250.94 160.80,249.88 161.05,248.90 161.30,247.99 161.55,247.16 161.80,246.40 162.05,245.71 162.30,245.10 162.55,244.55 162.80,244.08 163.05,243.68 163.30,243.35 163.55,243.17 163.80,243.11 164.05,243.12 164.30,243.21 164.55,243.36 164.80,243.59 165.05,243.89 165.30,244.26 165.55,244.70 165.80,245.22 166.05,245.82 166.30,246.50 166.55,247.25 166.80,248.08 167.05,249.00 167.30,250.01 167.55,251.10 167.80,252.29 168.05,253.57 168.30,254.95 168.55,256.43 168.80,258.01 169.05,259.71 169.30,261.53 169.55,263.47 169.80,265.54 170.05,267.75 170.30,270.11 170.55,272.62 170.80,275.31 171.05,278.17 171.30,281.24 171.55,284.52 171.80,288.03 172.05,291.80 172.30,295.86 172.55,300.24 172.80,304.98 173.05,310.14 173.30,315.76 173.55,321.94 173.80,328.77 174.05,336.39 174.30,344.97 174.55,354.77 174.80,366.16 175.05,379.70 175.30,396.36 175.55,417.93 175.80,424.27 176.05,424.27 176.30,424.27 176.55,424.27 176.80,424.27 177.05,417.05 177.30,395.18 177.55,378.23 177.80,364.39 178.05,352.71 178.30,342.62 178.55,333.75 178.80,325.84 179.05,318.71 179.30,312.24 179.55,306.32 179.80,300.87 180.05,295.83 180.30,291.16 180.55,286.81 180.80,282.74 181.05,278.93 181.30,275.36 181.55,272.00 181.80,268.84 182.05,265.86 182.30,263.05 182.55,260.40 182.80,257.90 183.05,255.53 183.30,253.30 183.55,251.19 183.80,249.19 184.05,247.31 184.30,245.53 184.55,243.86 184.80,242.29 185.05,240.81 185.30,239.42 185.55,238.12 185.80,236.90 186.05,235.77 186.30,234.72 186.55,233.75 186.80,232.86 187.05,232.04 187.30,231.30 187.55,230.64 187.80,230.04 188.05,229.52 188.30,229.07 188.55,228.69 188.80,228.38 189.05,228.14 189.30,227.94 189.55,227.76 189.80,227.65 190.05,227.62 190.30,227.65 190.55,227.76 190.80,227.93 191.05,228.18 191.30,228.51 191.55,228.91 191.80,229.38 192.05,229.93 192.30,230.56 192.55,231.28 192.80,232.07 193.05,232.95 193.30,233.92 193.55,234.98 193.80,236.13 194.05,237.38 194.30,238.73 194.55,240.19 194.80,241.76 195.05,243.44 195.30,245.25 195.55,247.18 195.80,249.26 196.05,251.47 196.30,253.85 196.55,256.39 196.80,259.11 197.05,262.02 197.30,265.14 197.55,268.50 197.80,272.11 198.05,275.99 198.30,280.20 198.55,284.75 198.80,289.71 199.05,295.12 199.30,301.07 199.55,307.65 199.80,314.99 200.05,323.25 200.30,332.67 200.55,343.59 200.80,356.53 201.05,372.34 201.30,392.61 201.55,420.68 201.80,424.27 202.05,424.27 202.30,424.27 202.55,424.27 202.80,401.14 203.05,377.81 203.30,359.95 203.55,345.47 203.80,333.30 204.05,322.81 204.30,313.60 204.55,305.40 204.80,298.01 205.05,291.31 205.30,285.17 205.55,279.51 205.80,274.29 206.05,269.43 206.30,264.90 206.55,260.66 206.80,256.69 207.05,252.95 207.30,249.44 207.55,246.12 207.80,242.99 208.05,240.03 208.30,237.23 208.55,234.58 208.80,232.07 209.05,229.70 209.30,227.44 209.55,225.31 209.80,223.28 210.05,221.37 210.30,219.56 210.55,217.84 210.80,216.23 211.05,214.70 211.30,213.26 211.55,211.91 211.80,210.65 212.05,209.46 212.30,208.35 212.55,207.33 212.80,206.37 213.05,205.50 213.30,204.69 213.55,203.96 213.80,203.31 214.05,202.72 214.30,202.20 214.55,201.76 214.80,201.38 215.05,201.09 215.30,200.95 215.55,200.87 215.80,200.87 216.05,200.93 216.30,201.07 216.55,201.28 216.80,201.55 217.05,201.91 217.30,202.34 217.55,202.84 217.80,203.42 218.05,204.08 218.30,204.81 218.55,205.63 218.80,206.54 219.05,207.53 219.30,208.61 219.55,209.79 219.80,211.06 220.05,212.43 220.30,213.91 220.55,215.49 220.80,217.20 221.05,219.02 221.30,220.97 221.55,223.05 221.80,225.28 222.05,227.66 222.30,230.20 222.55,232.92 222.80,235.83 223.05,238.95 223.30,242.29 223.55,245.89 223.80,249.75 224.05,253.93 224.30,258.44 224.55,263.35 224.80,268.71 225.05,274.58 225.30,281.06 225.55,288.27 225.80,296.36 226.05,305.56 226.30,316.17 226.55,328.69 226.80,343.87 227.05,363.09 227.30,389.19 227.55,424.27 227.80,424.27 228.05,424.27 228.30,418.97 228.55,382.00 228.80,357.18 229.05,338.46 229.30,323.44 229.55,310.90 229.80,300.14 230.05,290.73 230.30,282.37 230.55,274.86 230.80,268.06 231.05,261.84 231.30,256.12 231.55,250.84 231.80,245.93 232.05,241.37 232.30,237.10 232.55,233.10 232.80,229.34 233.05,225.81 233.30,222.48 233.55,219.34 233.80,216.37 234.05,213.56 234.30,210.90 234.55,208.38 234.80,206.00 235.05,203.74 235.30,201.60 235.55,199.58 235.80,197.66 236.05,195.85 236.30,194.13 236.55,192.52 236.80,190.99 237.05,189.55 237.30,188.20 237.55,186.93 237.80,185.74 238.05,184.64 238.30,183.61 238.55,182.65 238.80,181.78 239.05,180.97 239.30,180.24 239.55,179.58 239.80,178.99 240.05,178.47 240.30,178.02 240.55,177.63 240.80,177.32 241.05,177.08 241.30,176.91 241.55,176.80 241.80,176.74 242.05,176.74 242.30,176.81 242.55,176.96 242.80,177.17 243.05,177.47 243.30,177.83 243.55,178.27 243.80,178.79 244.05,179.39 244.30,180.07 244.55,180.83 244.80,181.68 245.05,182.61 245.30,183.64 245.55,184.77 245.80,185.99 246.05,187.31 246.30,188.75 246.55,190.29 246.80,191.96 247.05,193.75 247.30,195.67 247.55,197.74 247.80,199.95 248.05,202.33 248.30,204.87 248.55,207.61 248.80,210.55 249.05,213.70 249.30,217.11 249.55,220.77 249.80,224.74 250.05,229.05 250.30,233.73 250.55,238.85 250.80,244.46 251.05,250.67 251.30,257.57 251.55,265.33 251.80,274.13 252.05,284.29 252.30,296.22 252.55,310.64 252.80,328.74 253.05,352.95 253.30,389.32 253.55,424.27 253.80,424.27 254.05,398.28 254.30,357.09 254.55,330.37 254.80,310.53 255.05,294.73 255.30,281.60 255.55,270.36 255.80,260.55 256.05,251.83 256.30,244.00 256.55,236.90 256.80,230.40 257.05,224.42 257.30,218.88 257.55,213.74 257.80,208.93 258.05,204.43 258.30,200.21 258.55,196.23 258.80,192.47 259.05,188.92 259.30,185.56 259.55,182.38 259.80,179.36 260.05,176.48 260.30,173.75 260.55,171.16 260.80,168.69 261.05,166.34 261.30,164.10 261.55,161.97 261.80,159.94 262.05,158.01 262.30,156.17 262.55,154.43 262.80,152.77 263.05,151.20 263.30,149.71 263.55,148.30 263.80,146.97 264.05,145.72 264.30,144.54 264.55,143.43 264.80,142.40 265.05,141.44 265.30,140.54 265.55,139.72 265.80,138.96 266.05,138.28 266.30,137.66 266.55,137.10 266.80,136.62 267.05,136.20 267.30,135.85 267.55,135.56 267.80,135.35 268.05,135.19 268.30,135.09 268.55,135.06 268.80,135.11 269.05,135.22 269.30,135.41 269.55,135.67 269.80,136.01 270.05,136.43 270.30,136.93 270.55,137.51 270.80,138.18 271.05,138.93 271.30,139.78 271.55,140.72 271.80,141.76 272.05,142.91 272.30,144.16 272.55,145.53 272.80,147.02 273.05,148.64 273.30,150.40 273.55,152.29 273.80,154.35 274.05,156.57 274.30,158.97 274.55,161.57 274.80,164.38 275.05,167.43 275.30,170.73 275.55,174.33 275.80,178.24 276.05,182.53 276.30,187.23 276.55,192.41 276.80,198.16 277.05,204.57 277.30,211.80 277.55,220.04 277.80,229.54 278.05,240.72 278.30,254.20 278.55,271.07 278.80,275.95 279.05,275.95 279.30,275.95 279.55,275.95 279.80,275.95 280.05,275.95 280.30,275.95 280.55,257.35 280.80,240.47 281.05,226.46 281.30,214.47 281.55,203.96 281.80,194.61 282.05,186.17 282.30,178.48 282.55,171.42 282.80,164.87 283.05,158.78 283.30,153.08 283.55,147.73 283.80,142.67 284.05,137.89 284.30,133.35 284.55,129.04 284.80,124.92 285.05,120.98 285.30,117.22 285.55,113.61 285.80,110.14 286.05,106.81 286.30,103.60 286.55,100.50 286.80,97.52 287.05,94.64 287.30,91.85 287.55,89.16 287.80,86.55 288.05,84.03 288.30,81.58 288.55,79.21 288.80,76.91 289.05,74.68 289.30,72.52 289.55,70.41 289.80,68.37 290.05,66.39 290.30,64.46 290.55,62.58 290.80,60.76 291.05,58.99 291.30,57.27 291.55,55.59 291.80,53.96 292.05,52.37 292.30,50.83 292.55,49.33 292.80,47.87 293.05,46.46 293.30,45.08 293.55,43.74 293.80,42.43 294.05,41.17 294.30,39.93 294.55,38.74 294.80,37.58 295.05,36.45 295.30,35.35 295.55,34.29 295.80,33.26 296.05,32.26 296.30,31.29 296.55,30.35 296.80,29.44 297.05,28.56 297.30,27.71 297.55,26.89 297.80,26.09 298.05,25.33 298.30,24.59 298.55,23.88 298.80,23.19 299.05,22.54 299.30,21.91 299.55,21.30 299.80,20.72 300.05,20.17 300.30,19.64 300.55,19.14 300.80,18.66 301.05,18.21 301.30,17.78 301.55,17.38 301.80,17.00 302.05,16.64 302.30,16.31 302.55,16.01 302.80,15.72 303.05,15.47 303.30,15.23 303.55,15.02 303.80,14.83 304.05,14.67 304.30,14.53 304.55,14.41 304.80,14.32 305.05,14.25 305.30,14.20 305.55,14.14 305.80,14.10 306.05,14.08 306.30,14.09 306.55,14.13 306.80,14.18 307.05,14.26 307.30,14.36 307.55,14.49 307.80,14.64 308.05,14.81 308.30,15.01 308.55,15.23 308.80,15.48 309.05,15.75 309.30,16.05 309.55,16.36 309.80,16.71 310.05,17.08 310.30,17.47 310.55,17.89 310.80,18.34 311.05,18.81 311.30,19.30 311.55,19.83 311.80,20.37 312.05,20.95 312.30,21.55 312.55,22.18 312.80,22.84 313.05,23.53 313.30,24.24 313.55,24.98 313.80,25.75 314.05,26.55 314.30,27.38 314.55,28.24 314.80,29.14 315.05,30.06 315.30,31.01 315.55,32.00 315.80,33.02 316.05,34.07 316.30,35.16 316.55,36.29 316.80,37.44 317.05,38.64 317.30,39.87 317.55,41.14 317.80,42.45 318.05,43.80 318.30,45.19 318.55,46.63 318.80,48.10 319.05,49.62 319.30,51.19 319.55,52.81 319.80,54.47 320.05,56.18 320.30,57.95 320.55,59.77 320.80,61.65 321.05,63.58 321.30,65.57 321.55,67.63 321.80,69.75 322.05,71.95 322.30,74.21 322.55,76.54 322.80,78.96 323.05,81.46 323.30,84.04 323.55,86.72 323.80,89.49 324.05,92.37 324.30,95.35 324.55,98.45 324.80,101.68 325.05,105.04 325.30,108.54 325.55,112.20 325.80,116.03 326.05,120.04 326.30,124.24 326.55,128.67 326.80,133.35 327.05,138.29 327.30,143.54 327.55,149.13 327.80,155.11 328.05,161.55 328.30,168.51 328.55,176.09 328.80,184.42 329.05,193.66 329.30,204.06 329.55,215.94 329.80,229.84 330.05,246.61 330.30,267.82 330.55,296.84 330.80,312.60 331.05,312.60 331.30,312.60 331.55,312.60 331.80,281.89 332.05,259.46 332.30,242.49 332.55,228.90 332.80,217.61 333.05,208.00 333.30,199.66 333.55,192.32 333.80,185.79 334.05,179.94 334.30,174.65 334.55,169.84 334.80,165.45 335.05,161.42 335.30,157.72 335.55,154.30 335.80,151.15 336.05,148.23 336.30,145.52 336.55,143.01 336.80,140.68 337.05,138.52 337.30,136.51 337.55,134.65 337.80,132.92 338.05,131.33 338.30,129.85 338.55,128.49 338.80,127.23 339.05,126.08 339.30,125.03 339.55,124.08 339.80,123.21 340.05,122.44 340.30,121.75 340.55,121.14 340.80,120.61 341.05,120.16 341.30,119.79 341.55,119.50 341.80,119.27 342.05,119.12 342.30,119.04 342.55,119.03 342.80,119.13 343.05,119.39 343.30,119.71 343.55,120.10 343.80,120.56 344.05,121.08 344.30,121.67 344.55,122.33 344.80,123.06 345.05,123.85 345.30,124.71 345.55,125.64 345.80,126.64 346.05,127.72 346.30,128.86 346.55,130.08 346.80,131.37 347.05,132.74 347.30,134.18 347.55,135.71 347.80,137.32 348.05,139.01 348.30,140.80 348.55,142.67 348.80,144.64 349.05,146.70 349.30,148.87 349.55,151.15 349.80,153.54 350.05,156.05 350.30,158.68 350.55,161.45 350.80,164.36 351.05,167.42 351.30,170.65 351.55,174.04 351.80,177.63 352.05,181.42 352.30,185.44 352.55,189.70 352.80,194.24 353.05,199.08 353.30,204.27 353.55,209.84 353.80,215.86 354.05,222.40 354.30,229.54 354.55,237.41 354.80,246.16 355.05,256.02 355.30,267.29 355.55,280.46 355.80,296.30 356.05,310.85 356.30,310.85 356.55,310.85 356.80,310.85 357.05,310.85 357.30,310.85 357.55,310.85 357.80,310.85 358.05,296.75 358.30,282.37 358.55,270.48 358.80,260.36 359.05,251.59 359.30,243.87 359.55,237.01 359.80,230.84 360.05,225.26 360.30,220.18 360.55,215.54 360.80,211.27 361.05,207.34 361.30,203.71 361.55,200.35 361.80,197.23 362.05,194.33 362.30,191.63 362.55,189.12 362.80,186.79 363.05,184.61 363.30,182.58 363.55,180.70 363.80,178.95 364.05,177.32 364.30,175.81 364.55,174.42 364.80,173.13 365.05,171.94 365.30,170.86 365.55,169.87 365.80,168.97 366.05,168.16 366.30,167.44 366.55,166.79 366.80,166.23 367.05,165.75 367.30,165.35 367.55,165.02 367.80,164.77 368.05,164.59 368.30,164.49 368.55,164.45 368.80,164.49 369.05,164.59 369.30,164.71 369.55,164.90 369.80,165.16 370.05,165.49 370.30,165.88 370.55,166.35 370.80,166.89 371.05,167.49 371.30,168.17 371.55,168.92 371.80,169.74 372.05,170.64 372.30,171.61 372.55,172.65 372.80,173.78 373.05,174.98 373.30,176.26 373.55,177.63 373.80,179.09 374.05,180.63 374.30,182.27 374.55,184.00 374.80,185.83 375.05,187.76 375.30,189.80 375.55,191.96 375.80,194.23 376.05,196.63 376.30,199.16 376.55,201.84 376.80,204.66 377.05,207.65 377.30,210.81 377.55,214.16 377.80,217.71 378.05,221.48 378.30,225.49 378.55,229.78 378.80,234.36 379.05,239.28 379.30,244.58 379.55,250.31 379.80,256.55 380.05,263.37 380.30,270.90 380.55,279.27 380.80,288.70 381.05,299.48 381.30,312.04 381.55,327.07 381.80,345.80 382.05,370.64 382.30,407.63 382.55,424.27 382.80,424.27 383.05,418.48 383.30,377.92 383.55,351.83 383.80,332.62 384.05,317.46 384.30,304.96 384.55,294.36 384.80,285.18 385.05,277.10 385.30,269.91 385.55,263.45 385.80,257.59 386.05,252.25 386.30,247.36 386.55,242.86 386.80,238.71 387.05,234.86 387.30,231.28 387.55,227.95 387.80,224.85 388.05,221.96 388.30,219.25 388.55,216.72 388.80,214.36 389.05,212.15 389.30,210.08 389.55,208.15 389.80,206.34 390.05,204.66 390.30,203.09 390.55,201.63 390.80,200.27 391.05,199.02 391.30,197.86 391.55,196.80 391.80,195.82 392.05,194.93 392.30,194.13 392.55,193.40 392.80,192.76 393.05,192.20 393.30,191.71 393.55,191.30 393.80,190.97 394.05,190.70 394.30,190.51 394.55,190.39 394.80,190.34 395.05,190.36 395.30,190.46 395.55,190.62 395.80,190.77 396.05,190.98 396.30,191.26 396.55,191.61 396.80,192.02 397.05,192.51 397.30,193.07 397.55,193.71 397.80,194.42 398.05,195.20 398.30,196.06 398.55,196.99 398.80,198.01 399.05,199.11 399.30,200.29 399.55,201.56 399.80,202.92 400.05,204.36 400.30,205.91 400.55,207.55 400.80,209.30 401.05,211.15 401.30,213.12 401.55,215.20 401.80,217.41 402.05,219.75 402.30,222.23 402.55,224.86 402.80,227.65 403.05,230.61 403.30,233.76 403.55,237.11 403.80,240.67 404.05,244.48 404.30,248.54 404.55,252.90 404.80,257.59 405.05,262.65 405.30,268.14 405.55,274.11 405.80,280.65 406.05,287.86 406.30,295.89 406.55,304.94 406.80,315.26 407.05,327.26 407.30,341.57 407.55,359.26 407.80,382.42 408.05,415.94 408.30,424.27 408.55,424.27 408.80,424.27 409.05,401.11 409.30,372.87 409.55,352.44 409.80,336.45 410.05,323.34 410.30,312.26 410.55,302.67 410.80,294.24 411.05,286.74 411.30,279.99 411.55,273.87 411.80,268.28 412.05,263.16 412.30,258.43 412.55,254.06 412.80,250.00 413.05,246.23 413.30,242.70 413.55,239.41 413.80,236.33 414.05,233.44 414.30,230.73 414.55,228.19 414.80,225.80 415.05,223.56 415.30,221.45 415.55,219.48 415.80,217.62 416.05,215.89 416.30,214.26 416.55,212.74 416.80,211.32 417.05,210.00 417.30,208.77 417.55,207.63 417.80,206.59 418.05,205.62 418.30,204.74 418.55,203.94 418.80,203.22 419.05,202.58 419.30,202.01 419.55,201.52 419.80,201.10 420.05,200.75 420.30,200.48 420.55,200.27 420.80,200.14 421.05,200.08 421.30,200.08 421.55,200.30 421.80,200.67 422.05,201.12 422.30,201.63 422.55,202.22 422.80,202.88 423.05,203.61 423.30,204.41 423.55,205.29 423.80,206.24 424.05,207.27 424.30,208.37 424.55,209.56 424.80,210.82 425.05,212.17 425.30,213.61 425.55,215.13 425.80,216.75 426.05,218.46 426.30,220.27 426.55,222.18 426.80,224.19 427.05,226.32 427.30,228.57 427.55,230.94 427.80,233.44 428.05,236.08 428.30,238.87 428.55,241.81 428.80,244.93 429.05,248.22 429.30,251.72 429.55,255.42 429.80,259.37 430.05,263.57 430.30,268.06 430.55,272.86 430.80,278.04 431.05,283.62 431.30,289.67 431.55,296.28 431.80,303.54 432.05,311.59 432.30,320.60 432.55,330.83 432.80,342.64 433.05,356.61 433.30,373.70 433.55,395.70 433.80,424.27 434.05,424.27 434.30,424.27 434.55,424.27 434.80,424.27 435.05,397.40 435.30,375.96 435.55,359.43 435.80,346.03 436.05,334.78 436.30,325.11 436.55,316.67 436.80,309.19 437.05,302.49 437.30,296.45 437.55,290.95 437.80,285.94 438.05,281.33 438.30,277.09 438.55,273.16 438.80,269.52 439.05,266.15 439.30,263.00 439.55,260.08 439.80,257.34 440.05,254.80 440.30,252.42 440.55,250.19 440.80,248.12 441.05,246.18 441.30,244.38 441.55,242.70 441.80,241.13 442.05,239.68 442.30,238.33 442.55,237.09 442.80,235.95 443.05,234.90 443.30,233.94 443.55,233.07 443.80,232.29 444.05,231.58 444.30,230.97 444.55,230.43 444.80,229.97 445.05,229.58 445.30,229.27 445.55,229.03 445.80,228.87 446.05,228.78 446.30,228.76 446.55,228.81 446.80,228.93 447.05,229.12 447.30,229.31 447.55,229.43 447.80,229.63 448.05,229.90 448.30,230.24 448.55,230.65 448.80,231.14 449.05,231.69 449.30,232.32 449.55,233.03 449.80,233.81 450.05,234.67 450.30,235.61 450.55,236.62 450.80,237.73 451.05,238.91 451.30,240.19 451.55,241.55 451.80,243.01 452.05,244.57 452.30,246.23 452.55,248.00 452.80,249.87 453.05,251.87 453.30,253.98 453.55,256.23 453.80,258.61 454.05,261.14 454.30,263.82 454.55,266.67 454.80,269.70 455.05,272.92 455.30,276.35 455.55,280.02 455.80,283.94 456.05,288.14 456.30,292.65 456.55,297.51 456.80,302.78 457.05,308.51 457.30,314.77 457.55,321.66 457.80,329.31 458.05,337.88 458.30,347.62 458.55,358.85 458.80,372.10 459.05,388.23 459.30,408.81 459.55,424.27 459.80,424.27 460.05,424.27 460.30,424.27 460.55,424.27 460.80,419.23 461.05,396.22 461.30,378.67 461.55,364.50 461.80,352.65 462.05,342.48 462.30,333.58 462.55,325.70 462.80,318.63 463.05,312.24 463.30,306.42 463.55,301.08 463.80,296.17 464.05,291.63 464.30,287.42 464.55,283.50 464.80,279.85 465.05,276.44 465.30,273.24 465.55,270.25 465.80,267.44 466.05,264.80 466.30,262.32 466.55,259.99 466.80,257.80 467.05,255.75 467.30,253.82 467.55,252.00 467.80,250.30 468.05,248.71 468.30,247.23 468.55,245.84 468.80,244.54 469.05,243.34 469.30,242.23 469.55,241.21 469.80,240.26 470.05,239.40 470.30,238.63 470.55,237.92 470.80,237.30 471.05,236.75 471.30,236.28 471.55,235.88 471.80,235.55 472.05,235.29 472.30,235.10 472.55,234.99 472.80,234.94 473.05,234.97 473.30,235.08 473.55,235.26 473.80,235.51 474.05,235.83 474.30,236.23 474.55,236.69 474.80,237.23 475.05,237.84 475.30,238.53 475.55,239.29 475.80,240.13 476.05,241.05 476.30,242.05 476.55,243.13 476.80,244.30 477.05,245.56 477.30,246.90 477.55,248.34 477.80,249.87 478.05,251.51 478.30,253.25 478.55,255.10 478.80,257.07 479.05,259.16 479.30,261.38 479.55,263.73 479.80,266.22 480.05,268.87 480.30,271.68 480.55,274.67 480.80,277.86 481.05,281.24 481.30,284.86 481.55,288.72 481.80,292.86 482.05,297.31 482.30,302.10 482.55,307.28 482.80,312.91 483.05,319.06 483.30,325.81 483.55,333.30 483.80,341.67 484.05,351.14 484.30,362.04 484.55,374.83 484.80,390.29 485.05,409.79 485.30,424.27 485.55,424.27 485.80,424.27 486.05,424.27 486.30,424.27 486.55,424.27 486.80,405.86 487.05,387.43 487.30,372.70 487.55,360.44 487.80,349.97 488.05,340.85 488.30,332.78 488.55,325.56 488.80,319.04 489.05,313.11 489.30,307.69 489.55,302.69 489.80,298.08 490.05,293.81 490.30,289.84 490.55,286.13 490.80,282.67 491.05,279.44 491.30,276.40 491.55,273.56 491.80,270.89 492.05,268.38 492.30,266.02 492.55,263.81 492.80,261.73 493.05,259.77 493.30,257.94 493.55,256.22 493.80,254.60 494.05,253.10 494.30,251.69 494.55,250.38 494.80,249.16 495.05,248.03 495.30,246.99 495.55,246.04 495.80,245.16 496.05,244.37 496.30,243.65 496.55,243.01 496.80,242.45 497.05,241.96 497.30,241.55 497.55,241.21 497.80,240.94 498.05,240.74 498.30,240.61 498.55,240.55 498.80,240.56 499.05,240.62 499.30,240.75 499.55,240.94 499.80,241.21 500.05,241.55 500.30,241.96 500.55,242.45 500.80,243.00 501.05,243.64 501.30,244.34 501.55,245.13 501.80,245.99 502.05,246.93 502.30,247.96 502.55,249.07 502.80,250.27 503.05,251.55 503.30,252.93 503.55,254.41 503.80,255.99 504.05,257.67 504.30,259.46 504.55,261.36 504.80,263.38 505.05,265.53 505.30,267.82 505.55,270.24 505.80,272.82 506.05,275.56 506.30,278.48 506.55,281.58 506.80,284.89 507.05,288.41 507.30,292.19 507.55,296.23 507.80,300.57 508.05,305.25 508.30,310.31 508.55,315.81 508.80,321.81 509.05,328.39 509.30,335.68 509.55,343.82 509.80,353.02 510.05,363.56 510.30,375.88 510.55,390.69 510.80,409.18 511.05,424.27 511.30,424.27 511.55,424.27 511.80,424.27 512.05,424.27 512.30,424.27 512.55,413.61 512.80,394.17 513.05,378.78 513.30,366.06 513.55,355.24 513.80,345.83 514.05,337.53 514.30,330.12 514.55,323.43 514.80,317.36 515.05,311.80 515.30,306.69 515.55,301.97 515.80,297.59 516.05,293.52 516.30,289.73 516.55,286.18 516.80,282.86 517.05,279.75 517.30,276.84 517.55,274.09 517.80,271.52 518.05,269.09 518.30,266.81 518.55,264.67 518.80,262.65 519.05,260.75 519.30,258.97 519.55,257.30 519.80,255.74 520.05,254.27 520.30,252.91 520.55,251.63 520.80,250.45 521.05,249.35 521.30,248.34 521.55,247.41 521.80,246.57 522.05,245.80 522.30,245.11 522.55,244.49 522.80,243.95 523.05,243.49 523.30,243.09 523.55,242.77 523.80,242.52 524.05,242.34 524.30,242.23 524.55,242.20 524.80,242.27 525.05,242.43 525.30,242.67 525.55,242.97 525.80,243.34 526.05,243.79 526.30,244.30 526.55,244.89 526.80,245.56 527.05,246.30 527.30,247.11 527.55,248.01 527.80,248.98 528.05,250.04 528.30,251.18 528.55,252.41 528.80,253.73 529.05,255.13 529.30,256.64 529.55,258.24 529.80,259.95 530.05,261.77 530.30,263.70 530.55,265.74 530.80,267.92 531.05,270.22 531.30,272.67 531.55,275.26 531.80,278.02 532.05,280.94 532.30,284.06 532.55,287.37 532.80,290.90 533.05,294.67 533.30,298.71 533.55,303.04 533.80,307.69 534.05,312.72 534.30,318.17 534.55,324.11 534.80,330.62 535.05,337.81 535.30,345.81 535.55,354.83 535.80,365.12 536.05,377.09"/>
<polyline stroke="#EDB120" stroke-dasharray="2 1.33" points="76.30,424.27 76.55,424.27 76.80,424.27 77.05,424.27 77.30,424.27 77.55,424.27 77.80,419.54 78.05,407.18 78.30,396.63 78.55,387.44 78.80,379.33 79.05,372.09 79.30,365.58 79.55,359.67 79.80,354.29 80.05,349.37 80.30,344.84 80.55,340.68 80.80,336.84 81.05,333.29 81.30,330.01 81.55,326.98 81.80,324.18 82.05,321.59 82.30,319.20 82.55,317.00 82.80,314.98 83.05,313.12 83.30,311.44 83.55,309.90 83.80,308.52 84.05,307.29 84.30,306.20 84.55,305.24 84.80,304.43 85.05,303.74 85.30,303.19 85.55,302.77 85.80,302.48 86.05,302.91 86.30,302.65 86.55,302.46 86.80,302.27 87.05,302.11 87.30,302.02 87.55,302.00 87.80,302.05 88.05,302.17 88.30,302.36 88.55,302.63 88.80,302.97 89.05,303.39 89.30,303.88 89.55,304.45 89.80,305.10 90.05,305.83 90.30,306.65 90.55,307.55 90.80,308.54 91.05,309.63 91.30,310.80 91.55,312.08 91.80,313.46 92.05,314.94 92.30,316.54 92.55,318.26 92.80,320.09 93.05,322.06 93.30,324.17 93.55,326.43 93.80,328.84 94.05,331.43 94.30,334.19 94.55,337.16 94.80,340.33 95.05,343.75 95.30,347.42 95.55,351.38 95.80,355.66 96.05,360.30 96.30,365.35 96.55,370.88 96.80,376.96 97.05,383.69 97.30,391.21 97.55,399.70 97.80,409.40 98.05,420.68 98.30,424.27 98.55,424.27 98.80,424.27 99.05,424.27 99.30,424.27 99.55,424.27 99.80,424.27 100.05,424.27 100.30,424.27 100.55,424.27 100.80,424.27 101.05,417.75 101.30,405.98 101.55,395.79 101.80,386.82 102.05,378.82 102.30,371.59 102.55,365.03 102.80,359.01 103.05,353.47 103.30,348.34 103.55,343.57 103.80,339.12 104.05,334.96 104.30,331.06 104.55,327.40 104.80,323.94 105.05,320.69 105.30,317.62 105.55,314.72 105.80,311.97 106.05,309.38 106.30,306.92 106.55,304.59 106.80,302.39 107.05,300.30 107.30,298.33 107.55,296.46 107.80,294.70 108.05,293.03 108.30,291.46 108.55,289.98 108.80,288.59 109.05,287.29 109.30,286.07 109.55,284.93 109.80,283.87 110.05,282.89 110.30,281.98 110.55,281.15 110.80,280.40 111.05,279.71 111.30,279.10 111.55,278.56 111.80,278.10 112.05,277.70 112.30,277.37 112.55,277.14 112.80,277.03 113.05,276.99 113.30,277.02 113.55,277.12 113.80,277.30 114.05,277.54 114.30,277.86 114.55,278.25 114.80,278.71 115.05,279.26 115.30,279.87 115.55,280.57 115.80,281.35 116.05,282.22 116.30,283.17 116.55,284.20 116.80,285.33 117.05,286.55 117.30,287.87 117.55,289.29 117.80,290.82 118.05,292.46 118.30,294.22 118.55,296.09 118.80,298.10 119.05,300.24 119.30,302.53 119.55,304.98 119.80,307.59 120.05,310.38 120.30,313.37 120.55,316.57 120.80,319.99 121.05,323.68 121.30,327.64 121.55,331.91 121.80,336.54 122.05,341.58 122.30,347.07 122.55,353.09 122.80,359.75 123.05,367.16 123.30,375.50 123.55,384.99 123.80,395.99 124.05,409.00 124.30,424.27 124.55,424.27 124.80,424.27 125.05,424.27 125.30,424.27 125.55,424.27 125.80,424.27 126.05,424.27 126.30,424.27 126.55,413.21 126.80,398.81 127.05,386.72 127.30,376.31 127.55,367.19 127.80,359.07 128.05,351.76 128.30,345.14 128.55,339.08 128.80,333.51 129.05,328.36 129.30,323.59 129.55,319.14 129.80,314.99 130.05,311.10 130.30,307.45 130.55,304.02 130.80,300.79 131.05,297.75 131.30,294.88 131.55,292.16 131.80,289.60 132.05,287.18 132.30,284.89 132.55,282.72 132.80,280.67 133.05,278.74 133.30,276.91 133.55,275.19 133.80,273.57 134.05,272.04 134.30,270.60 134.55,269.26 134.80,268.00 135.05,266.82 135.30,265.73 135.55,264.72 135.80,263.78 136.05,262.92 136.30,262.14 136.55,261.43 136.80,260.79 137.05,260.23 137.30,259.74 137.55,259.32 137.80,258.96 138.05,258.68 138.30,258.48 138.55,258.35 138.80,258.30 139.05,258.32 139.30,258.41 139.55,258.57 139.80,258.80 140.05,259.10 140.30,259.48 140.55,259.93 140.80,260.46 141.05,261.07 141.30,261.75 141.55,262.51 141.80,263.36 142.05,264.29 142.30,265.31 142.55,266.43 142.80,267.63 143.05,268.93 143.30,270.33 143.55,271.84 143.80,273.46 144.05,275.19 144.30,277.04 144.55,279.02 144.80,281.14 145.05,283.40 145.30,285.81 145.55,288.39 145.80,291.15 146.05,294.09 146.30,297.25 146.55,300.63 146.80,304.26 147.05,308.16 147.30,312.37 147.55,316.93 147.80,321.88 148.05,327.27 148.30,333.18 148.55,339.70 148.80,346.95 149.05,355.09 149.30,364.33 149.55,374.99 149.80,387.54 150.05,402.77 150.30,422.03 150.55,424.27 150.80,424.27 151.05,424.27 151.30,424.27 151.55,424.27 151.80,424.27 152.05,416.45 152.30,397.79 152.55,382.81 152.80,370.32 153.05,359.62 153.30,350.25 153.55,341.95 153.80,334.49 154.05,327.74 154.30,321.57 154.55,315.91 154.80,310.69 155.05,305.84 155.30,301.33 155.55,297.12 155.80,293.18 156.05,289.48 156.30,286.01 156.55,282.74 156.80,279.65 157.05,276.75 157.30,274.00 157.55,271.41 157.80,268.95 158.05,266.63 158.30,264.44 158.55,262.37 158.80,260.41 159.05,258.56 159.30,256.82 159.55,255.17 159.80,253.62 160.05,252.17 160.30,250.80 160.55,249.52 160.80,248.33 161.05,247.21 161.30,246.18 161.55,245.23 161.80,244.35 162.05,243.55 162.30,242.82 162.55,242.17 162.80,241.59 163.05,241.08 163.30,240.64 163.55,240.27 163.80,239.97 164.05,239.74 164.30,239.65 164.55,239.63 164.80,239.68 165.05,239.80 165.30,240.00 165.55,240.26 165.80,240.60 166.05,241.01 166.30,241.49 166.55,242.05 166.80,242.68 167.05,243.40 167.30,244.19 167.55,245.07 167.80,246.03 168.05,247.08 168.30,248.22 168.55,249.45 168.80,250.78 169.05,252.20 169.30,253.74 169.55,255.38 169.80,257.13 170.05,259.00 170.30,261.00 170.55,263.14 170.80,265.42 171.05,267.84 171.30,270.43 171.55,273.20 171.80,276.15 172.05,279.30 172.30,282.68 172.55,286.30 172.80,290.19 173.05,294.39 173.30,298.91 173.55,303.82 173.80,309.17 174.05,315.01 174.30,321.45 174.55,328.58 174.80,336.57 175.05,345.61 175.30,356.00 175.55,368.17 175.80,382.82 176.05,401.16 176.30,424.27 176.55,424.27 176.80,424.27 177.05,424.27 177.30,424.27 177.55,424.27 177.80,404.51 178.05,384.92 178.30,369.38 178.55,356.50 178.80,345.52 179.05,335.96 179.30,327.50 179.55,319.93 179.80,313.09 180.05,306.86 180.30,301.14 180.55,295.88 180.80,291.00 181.05,286.47 181.30,282.24 181.55,278.29 181.80,274.59 182.05,271.11 182.30,267.84 182.55,264.77 182.80,261.86 183.05,259.13 183.30,256.54 183.55,254.11 183.80,251.80 184.05,249.62 184.30,247.57 184.55,245.63 184.80,243.80 185.05,242.07 185.30,240.45 185.55,238.92 185.80,237.49 186.05,236.14 186.30,234.88 186.55,233.71 186.80,232.62 187.05,231.61 187.30,230.68 187.55,229.83 187.80,229.05 188.05,228.35 188.30,227.72 188.55,227.16 188.80,226.68 189.05,226.26 189.30,225.92 189.55,225.64 189.80,225.44 190.05,225.24 190.30,225.09 190.55,225.01 190.80,225.00 191.05,225.07 191.30,225.20 191.55,225.41 191.80,225.69 192.05,226.04 192.30,226.47 192.55,226.97 192.80,227.56 193.05,228.22 193.30,228.97 193.55,229.79 193.80,230.71 194.05,231.71 194.30,232.81 194.55,234.00 194.80,235.29 195.05,236.68 195.30,238.18 195.55,239.80 195.80,241.53 196.05,243.39 196.30,245.38 196.55,247.51 196.80,249.79 197.05,252.23 197.30,254.84 197.55,257.63 197.80,260.63 198.05,263.84 198.30,267.29 198.55,271.01 198.80,275.02 199.05,279.36 199.30,284.07 199.55,289.20 199.80,294.82 200.05,301.01 200.30,307.87 200.55,315.55 200.80,324.25 201.05,334.22 201.30,345.87 201.55,359.82 201.80,377.17 202.05,399.98 202.30,424.27 202.55,424.27 202.80,424.27 203.05,424.27 203.30,416.92 203.55,388.33 203.80,367.55 204.05,351.21 204.30,337.75 204.55,326.31 204.80,316.37 205.05,307.59 205.30,299.74 205.55,292.64 205.80,286.17 206.05,280.23 206.30,274.76 206.55,269.68 206.80,264.96 207.05,260.55 207.30,256.42 207.55,252.55 207.80,248.91 208.05,245.47 208.30,242.23 208.55,239.17 208.80,236.28 209.05,233.54 209.30,230.95 209.55,228.49 209.80,226.16 210.05,223.96 210.30,221.87 210.55,219.89 210.80,218.02 211.05,216.24 211.30,214.57 211.55,212.99 211.80,211.50 212.05,210.10 212.30,208.78 212.55,207.54 212.80,206.39 213.05,205.32 213.30,204.32 213.55,203.40 213.80,202.55 214.05,201.78 214.30,201.07 214.55,200.44 214.80,199.89 215.05,199.40 215.30,198.98 215.55,198.63 215.80,198.40 216.05,198.28 216.30,198.22 216.55,198.24 216.80,198.32 217.05,198.48 217.30,198.71 217.55,199.01 217.80,199.38 218.05,199.83 218.30,200.36 218.55,200.96 218.80,201.64 219.05,202.40 219.30,203.25 219.55,204.18 219.80,205.20 220.05,206.31 220.30,207.52 220.55,208.82 220.80,210.22 221.05,211.73 221.30,213.36 221.55,215.10 221.80,216.96 222.05,218.96 222.30,221.09 222.55,223.37 222.80,225.80 223.05,228.41 223.30,231.19 223.55,234.18 223.80,237.37 224.05,240.81 224.30,244.50 224.55,248.47 224.80,252.77 225.05,257.43 225.30,262.50 225.55,268.05 225.80,274.14 226.05,280.89 226.30,288.42 226.55,296.91 226.80,306.63 227.05,317.93 227.30,331.38 227.55,347.95 227.80,369.44 228.05,399.87 228.30,424.27 228.55,424.27 228.80,424.27 229.05,398.93 229.30,368.02 229.55,346.06 229.80,329.02 230.05,315.09 230.30,303.31 230.55,293.13 230.80,284.16 231.05,276.15 231.30,268.93 231.55,262.36 231.80,256.35 232.05,250.80 232.30,245.67 232.55,240.90 232.80,236.45 233.05,232.28 233.30,228.37 233.55,224.70 233.80,221.24 234.05,217.98 234.30,214.90 234.55,211.99 234.80,209.23 235.05,206.62 235.30,204.15 235.55,201.81 235.80,199.59 236.05,197.49 236.30,195.50 236.55,193.62 236.80,191.84 237.05,190.16 237.30,188.57 237.55,187.07 237.80,185.65 238.05,184.33 238.30,183.09 238.55,181.92 238.80,180.84 239.05,179.83 239.30,178.90 239.55,178.04 239.80,177.26 240.05,176.55 240.30,175.90 240.55,175.33 240.80,174.83 241.05,174.40 241.30,174.04 241.55,173.75 241.80,173.53 242.05,173.37 242.30,173.28 242.55,173.25 242.80,173.29 243.05,173.40 243.30,173.58 243.55,173.84 243.80,174.16 244.05,174.57 244.30,175.05 244.55,175.61 244.80,176.24 245.05,176.96 245.30,177.77 245.55,178.66 245.80,179.64 246.05,180.72 246.30,181.89 246.55,183.16 246.80,184.54 247.05,186.02 247.30,187.62 247.55,189.35 247.80,191.20 248.05,193.18 248.30,195.32 248.55,197.60 248.80,200.05 249.05,202.68 249.30,205.50 249.55,208.53 249.80,211.79 250.05,215.31 250.30,219.10 250.55,223.21 250.80,227.67 251.05,232.52 251.30,237.84 251.55,243.69 251.80,250.17 252.05,257.40 252.30,265.55 252.55,274.87 252.80,285.68 253.05,298.51 253.30,314.22 253.55,334.37 253.80,362.33 254.05,407.85 254.30,424.27 254.55,424.27 254.80,376.02 255.05,342.21 255.30,318.76 255.55,300.78 255.80,286.17 256.05,273.88 256.30,263.26 256.55,253.93 256.80,245.60 257.05,238.08 257.30,231.24 257.55,224.97 257.80,219.18 258.05,213.81 258.30,208.82 258.55,204.15 258.80,199.77 259.05,195.65 259.30,191.78 259.55,188.11 259.80,184.65 260.05,181.37 260.30,178.26 260.55,175.31 260.80,172.50 261.05,169.83 261.30,167.30 261.55,164.88 261.80,162.59 262.05,160.40 262.30,158.32 262.55,156.34 262.80,154.45 263.05,152.66 263.30,150.96 263.55,149.35 263.80,147.82 264.05,146.37 264.30,145.00 264.55,143.71 264.80,142.50 265.05,141.36 265.30,140.29 265.55,139.29 265.80,138.36 266.05,137.51 266.30,136.72 266.55,136.00 266.80,135.35 267.05,134.76 267.30,134.24 267.55,133.79 267.80,133.41 268.05,133.09 268.30,132.84 268.55,132.66 268.80,132.54 269.05,132.49 269.30,132.51 269.55,132.60 269.80,132.76 270.05,132.99 270.30,133.31 270.55,133.69 270.80,134.16 271.05,134.71 271.30,135.34 271.55,136.06 271.80,136.87 272.05,137.77 272.30,138.77 272.55,139.87 272.80,141.08 273.05,142.40 273.30,143.83 273.55,145.39 273.80,147.08 274.05,148.90 274.30,150.88 274.55,153.02 274.80,155.33 275.05,157.82 275.30,160.52 275.55,163.44 275.80,166.61 276.05,170.04 276.30,173.78 276.55,177.85 276.80,182.31 277.05,187.21 277.30,192.63 277.55,198.65 277.80,205.39 278.05,213.01 278.30,221.73 278.55,231.87 278.80,243.89 279.05,258.58 279.30,275.95 279.55,275.95 279.80,275.95 280.05,275.95 280.30,275.95 280.55,275.95 280.80,275.95 281.05,267.72 281.30,248.45 281.55,232.87 281.80,219.77 282.05,208.44 282.30,198.45 282.55,189.50 282.80,181.40 283.05,173.99 283.30,167.16 283.55,160.82 283.80,154.91 284.05,149.37 284.30,144.16 284.55,139.23 284.80,134.57 285.05,130.14 285.30,125.92 285.55,121.90 285.80,118.05 286.05,114.36 286.30,110.83 286.55,107.43 286.80,104.17 287.05,101.02 287.30,97.99 287.55,95.07 287.80,92.24 288.05,89.51 288.30,86.87 288.55,84.32 288.80,81.84 289.05,79.44 289.30,77.12 289.55,74.86 289.80,72.68 290.05,70.55 290.30,68.49 290.55,66.49 290.80,64.55 291.05,62.66 291.30,60.82 291.55,59.04 291.80,57.30 292.05,55.62 292.30,53.98 292.55,52.38 292.80,50.83 293.05,49.33 293.30,47.86 293.55,46.44 293.80,45.05 294.05,43.70 294.30,42.40 294.55,41.12 294.80,39.89 295.05,38.69 295.30,37.52 295.55,36.39 295.80,35.29 296.05,34.23 296.30,33.20 296.55,32.20 296.80,31.22 297.05,30.29 297.30,29.38 297.55,28.50 297.80,27.65 298.05,26.82 298.30,26.03 298.55,25.27 298.80,24.53 299.05,23.82 299.30,23.14 299.55,22.48 299.80,21.85 300.05,21.25 300.30,20.67 300.55,20.12 300.80,19.59 301.05,19.09 301.30,18.62 301.55,18.17 301.80,17.74 302.05,17.34 302.30,16.97 302.55,16.62 302.80,16.29 303.05,15.98 303.30,15.71 303.55,15.45 303.80,15.22 304.05,15.01 304.30,14.83 304.55,14.67 304.80,14.53 305.05,14.41 305.30,14.32 305.55,14.26 305.80,14.21 306.05,14.19 306.30,14.19 306.55,14.20 306.80,14.24 307.05,14.31 307.30,14.40 307.55,14.51 307.80,14.64 308.05,14.80 308.30,14.98 308.55,15.19 308.80,15.42 309.05,15.68 309.30,15.95 309.55,16.26 309.80,16.58 310.05,16.93 310.30,17.31 310.55,17.71 310.80,18.14 311.05,18.59 311.30,19.06 311.55,19.57 311.80,20.09 312.05,20.65 312.30,21.23 312.55,21.83 312.80,22.47 313.05,23.13 313.30,23.81 313.55,24.53 313.80,25.27 314.05,26.04 314.30,26.84 314.55,27.67 314.80,28.53 315.05,29.42 315.30,30.34 315.55,31.29 315.80,32.27 316.05,33.29 316.30,34.34 316.55,35.42 316.80,36.53 317.05,37.68 317.30,38.86 317.55,40.08 317.80,41.34 318.05,42.63 318.30,43.97 318.55,45.34 318.80,46.75 319.05,48.21 319.30,49.70 319.55,51.24 319.80,52.83 320.05,54.46 320.30,56.14 320.55,57.87 320.80,59.65 321.05,61.49 321.30,63.38 321.55,65.32 321.80,67.33 322.05,69.39 322.30,71.52 322.55,73.72 322.80,75.99 323.05,78.32 323.30,80.74 323.55,83.23 323.80,85.81 324.05,88.48 324.30,91.24 324.55,94.10 324.80,97.07 325.05,100.14 325.30,103.34 325.55,106.66 325.80,110.13 326.05,113.74 326.30,117.51 326.55,121.45 326.80,125.58 327.05,129.93 327.30,134.50 327.55,139.32 327.80,144.43 328.05,149.86 328.30,155.64 328.55,161.85 328.80,168.53 329.05,175.77 329.30,183.68 329.55,192.40 329.80,202.12 330.05,213.11 330.30,225.77 330.55,240.73 330.80,259.07 331.05,275.95 331.30,275.95 331.55,275.95 331.80,275.95 332.05,275.95 332.30,275.95 332.55,275.95 332.80,257.18 333.05,241.78 333.30,229.25 333.55,218.74 333.80,209.72 334.05,201.86 334.30,194.91 334.55,188.71 334.80,183.14 335.05,178.10 335.30,173.51 335.55,169.32 335.80,165.47 336.05,161.94 336.30,158.68 336.55,155.66 336.80,152.88 337.05,150.30 337.30,147.91 337.55,145.70 337.80,143.64 338.05,141.74 338.30,139.98 338.55,138.35 338.80,136.85 339.05,135.47 339.30,134.19 339.55,133.03 339.80,131.97 340.05,131.00 340.30,130.13 340.55,129.35 340.80,128.65 341.05,128.04 341.30,127.51 341.55,127.07 341.80,126.70 342.05,126.40 342.30,126.18 342.55,126.03 342.80,125.95 343.05,125.95 343.30,126.01 343.55,126.17 343.80,126.41 344.05,126.72 344.30,127.10 344.55,127.54 344.80,128.05 345.05,128.63 345.30,129.27 345.55,129.98 345.80,130.76 346.05,131.61 346.30,132.53 346.55,133.52 346.80,134.57 347.05,135.71 347.30,136.91 347.55,138.19 347.80,139.55 348.05,140.99 348.30,142.50 348.55,144.11 348.80,145.79 349.05,147.57 349.30,149.44 349.55,151.41 349.80,153.47 350.05,155.64 350.30,157.92 350.55,160.32 350.80,162.83 351.05,165.48 351.30,168.26 351.55,171.19 351.80,174.27 352.05,177.52 352.30,180.95 352.55,184.58 352.80,188.42 353.05,192.49 353.30,196.82 353.55,201.43 353.80,206.36 354.05,211.66 354.30,217.36 354.55,223.53 354.80,230.26 355.05,237.63 355.30,245.79 355.55,254.92 355.80,265.25 356.05,277.18 356.30,291.25 356.55,308.45 356.80,330.55 357.05,348.37 357.30,348.37 357.55,348.37 357.80,348.37 358.05,348.37 358.30,332.84 358.55,311.49 358.80,295.06 359.05,281.74 359.30,270.58 359.55,261.01 359.80,252.65 360.05,245.25 360.30,238.64 360.55,232.67 360.80,227.26 361.05,222.32 361.30,217.80 361.55,213.63 361.80,209.78 362.05,206.22 362.30,202.91 362.55,199.84 362.80,196.98 363.05,194.32 363.30,191.84 363.55,189.53 363.80,187.37 364.05,185.36 364.30,183.49 364.55,181.75 364.80,180.13 365.05,178.62 365.30,177.23 365.55,175.94 365.80,174.76 366.05,173.67 366.30,172.68 366.55,171.77 366.80,170.95 367.05,170.22 367.30,169.57 367.55,169.00 367.80,168.51 368.05,168.10 368.30,167.76 368.55,167.50 368.80,167.31 369.05,167.19 369.30,167.14 369.55,167.16 369.80,167.25 370.05,167.41 370.30,167.63 370.55,167.93 370.80,168.29 371.05,168.72 371.30,169.23 371.55,169.80 371.80,170.44 372.05,171.16 372.30,171.94 372.55,172.80 372.80,173.74 373.05,174.74 373.30,175.83 373.55,176.99 373.80,178.24 374.05,179.56 374.30,180.97 374.55,182.47 374.80,184.06 375.05,185.74 375.30,187.52 375.55,189.40 375.80,191.38 376.05,193.48 376.30,195.69 376.55,198.02 376.80,200.48 377.05,203.08 377.30,205.82 377.55,208.71 377.80,211.78 378.05,215.02 378.30,218.45 378.55,222.10 378.80,225.97 379.05,230.10 379.30,234.51 379.55,239.23 379.80,244.30 380.05,249.78 380.30,255.71 380.55,262.18 380.80,269.27 381.05,277.13 381.30,285.90 381.55,295.84 381.80,307.27 382.05,320.72 382.30,337.06 382.55,357.83 382.80,386.42 383.05,424.27 383.30,424.27 383.55,424.27 383.80,402.62 384.05,369.44 384.30,346.63 384.55,329.27 384.80,315.31 385.05,303.65 385.30,293.67 385.55,284.97 385.80,277.28 386.05,270.40 386.30,264.20 386.55,258.57 386.80,253.43 387.05,248.71 387.30,244.36 387.55,240.34 387.80,236.61 388.05,233.14 388.30,229.91 388.55,226.91 388.80,224.10 389.05,221.47 389.30,219.02 389.55,216.73 389.80,214.58 390.05,212.58 390.30,210.71 390.55,208.96 390.80,207.33 391.05,205.81 391.30,204.40 391.55,203.10 391.80,201.89 392.05,200.78 392.30,199.75 392.55,198.82 392.80,197.98 393.05,197.21 393.30,196.53 393.55,195.93 393.80,195.41 394.05,194.96 394.30,194.59 394.55,194.29 394.80,194.06 395.05,193.91 395.30,193.82 395.55,193.81 395.80,193.87 396.05,194.00 396.30,194.18 396.55,194.39 396.80,194.67 397.05,195.01 397.30,195.43 397.55,195.92 397.80,196.48 398.05,197.11 398.30,197.82 398.55,198.60 398.80,199.45 399.05,200.39 399.30,201.40 399.55,202.49 399.80,203.66 400.05,204.92 400.30,206.27 400.55,207.70 400.80,209.23 401.05,210.86 401.30,212.58 401.55,214.41 401.80,216.35 402.05,218.41 402.30,220.58 402.55,222.89 402.80,225.32 403.05,227.91 403.30,230.64 403.55,233.54 403.80,236.62 404.05,239.88 404.30,243.36 404.55,247.06 404.80,251.00 405.05,255.23 405.30,259.76 405.55,264.63 405.80,269.90 406.05,275.61 406.30,281.84 406.55,288.68 406.80,296.24 407.05,304.69 407.30,314.25 407.55,325.23 407.80,338.10 408.05,353.64 408.30,373.22 408.55,399.68 408.80,424.27 409.05,424.27 409.30,424.27 409.55,424.27 409.80,394.29 410.05,369.84 410.30,351.49 410.55,336.83 410.80,324.65 411.05,314.26 411.30,305.21 411.55,297.21 411.80,290.07 412.05,283.63 412.30,277.78 412.55,272.43 412.80,267.51 413.05,262.97 413.30,258.77 413.55,254.87 413.80,251.24 414.05,247.86 414.30,244.69 414.55,241.73 414.80,238.96 415.05,236.36 415.30,233.93 415.55,231.64 415.80,229.50 416.05,227.49 416.30,225.60 416.55,223.84 416.80,222.19 417.05,220.65 417.30,219.21 417.55,217.87 417.80,216.63 418.05,215.48 418.30,214.42 418.55,213.45 418.80,212.56 419.05,211.76 419.30,211.03 419.55,210.38 419.80,209.81 420.05,209.32 420.30,208.90 420.55,208.55 420.80,208.27 421.05,208.07 421.30,207.94 421.55,207.87 421.80,207.88 422.05,207.96 422.30,208.27 422.55,208.64 422.80,209.09 423.05,209.61 423.30,210.20 423.55,210.86 423.80,211.60 424.05,212.40 424.30,213.28 424.55,214.24 424.80,215.27 425.05,216.38 425.30,217.58 425.55,218.85 425.80,220.21 426.05,221.65 426.30,223.19 426.55,224.82 426.80,226.54 427.05,228.36 427.30,230.29 427.55,232.33 427.80,234.48 428.05,236.75 428.30,239.14 428.55,241.67 428.80,244.35 429.05,247.17 429.30,250.15 429.55,253.31 429.80,256.66 430.05,260.21 430.30,263.99 430.55,268.00 430.80,272.29 431.05,276.88 431.30,281.80 431.55,287.10 431.80,292.84 432.05,299.08 432.30,305.91 432.55,313.45 432.80,321.83 433.05,331.26 433.30,342.05 433.55,354.61 433.80,369.66 434.05,388.40 434.30,413.25 434.55,424.27 434.80,424.27 435.05,424.27 435.30,424.27 435.55,420.58 435.80,394.51 436.05,375.32 436.30,360.17 436.55,347.69 436.80,337.10 437.05,327.94 437.30,319.88 437.55,312.70 437.80,306.26 438.05,300.42 438.30,295.10 438.55,290.23 438.80,285.74 439.05,281.61 439.30,277.78 439.55,274.22 439.80,270.91 440.05,267.83 440.30,264.96 440.55,262.28 440.80,259.77 441.05,257.43 441.30,255.25 441.55,253.20 441.80,251.29 442.05,249.51 442.30,247.85 442.55,246.31 442.80,244.88 443.05,243.55 443.30,242.32 443.55,241.19 443.80,240.15 444.05,239.20 444.30,238.34 444.55,237.56 444.80,236.87 445.05,236.26 445.30,235.73 445.55,235.27 445.80,234.89 446.05,234.58 446.30,234.35 446.55,234.19 446.80,234.11 447.05,234.09 447.30,234.14 447.55,234.27 447.80,234.46 448.05,234.60 448.30,234.79 448.55,235.04 448.80,235.36 449.05,235.76 449.30,236.22 449.55,236.76 449.80,237.37 450.05,238.05 450.30,238.82 450.55,239.65 450.80,240.57 451.05,241.56 451.30,242.64 451.55,243.80 451.80,245.05 452.05,246.38 452.30,247.81 452.55,249.34 452.80,250.96 453.05,252.69 453.30,254.52 453.55,256.47 453.80,258.54 454.05,260.73 454.30,263.05 454.55,265.52 454.80,268.13 455.05,270.90 455.30,273.85 455.55,276.98 455.80,280.31 456.05,283.86 456.30,287.65 456.55,291.70 456.80,296.04 457.05,300.72 457.30,305.76 457.55,311.23 457.80,317.19 458.05,323.72 458.30,330.92 458.55,338.94 458.80,347.97 459.05,358.28 459.30,370.26 459.55,384.56 459.80,402.25 460.05,424.27 460.30,424.27 460.55,424.27 460.80,424.27 461.05,424.27 461.30,424.27 461.55,415.78 461.80,395.34 462.05,379.34 462.30,366.23 462.55,355.13 462.80,345.53 463.05,337.10 463.30,329.58 463.55,322.83 463.80,316.70 464.05,311.11 464.30,305.97 464.55,301.24 464.80,296.86 465.05,292.80 465.30,289.02 465.55,285.49 465.80,282.19 466.05,279.10 466.30,276.21 466.55,273.49 466.80,270.95 467.05,268.55 467.30,266.31 467.55,264.20 467.80,262.22 468.05,260.36 468.30,258.62 468.55,256.99 468.80,255.47 469.05,254.04 469.30,252.72 469.55,251.49 469.80,250.35 470.05,249.30 470.30,248.33 470.55,247.45 470.80,246.65 471.05,245.92 471.30,245.28 471.55,244.71 471.80,244.22 472.05,243.80 472.30,243.45 472.55,243.18 472.80,242.97 473.05,242.84 473.30,242.78 473.55,242.78 473.80,242.87 474.05,243.02 474.30,243.25 474.55,243.55 474.80,243.91 475.05,244.35 475.30,244.86 475.55,245.45 475.80,246.11 476.05,246.84 476.30,247.65 476.55,248.54 476.80,249.51 477.05,250.56 477.30,251.69 477.55,252.91 477.80,254.22 478.05,255.61 478.30,257.11 478.55,258.70 478.80,260.40 479.05,262.20 479.30,264.11 479.55,266.14 479.80,268.30 480.05,270.58 480.30,273.01 480.55,275.58 480.80,278.31 481.05,281.21 481.30,284.29 481.55,287.57 481.80,291.07 482.05,294.79 482.30,298.78 482.55,303.06 482.80,307.65 483.05,312.61 483.30,317.98 483.55,323.82 483.80,330.22 484.05,337.27 484.30,345.10 484.55,353.90 484.80,363.92 485.05,375.52 485.30,389.28 485.55,406.15 485.80,424.27 486.05,424.27 486.30,424.27 486.55,424.27 486.80,424.27 487.05,424.27 487.30,424.27 487.55,406.72 487.80,389.99 488.05,376.37 488.30,364.91 488.55,355.04 488.80,346.38 489.05,338.69 489.30,331.78 489.55,325.53 489.80,319.83 490.05,314.60 490.30,309.79 490.55,305.33 490.80,301.20 491.05,297.35 491.30,293.77 491.55,290.42 491.80,287.28 492.05,284.34 492.30,281.58 492.55,279.00 492.80,276.57 493.05,274.28 493.30,272.14 493.55,270.13 493.80,268.24 494.05,266.47 494.30,264.81 494.55,263.26 494.80,261.81 495.05,260.45 495.30,259.20 495.55,258.03 495.80,256.96 496.05,255.97 496.30,255.06 496.55,254.24 496.80,253.49 497.05,252.82 497.30,252.23 497.55,251.72 497.80,251.28 498.05,250.91 498.30,250.61 498.55,250.39 498.80,250.23 499.05,250.15 499.30,250.14 499.55,250.19 499.80,250.30 500.05,250.48 500.30,250.73 500.55,251.05 500.80,251.44 501.05,251.91 501.30,252.45 501.55,253.06 501.80,253.74 502.05,254.51 502.30,255.35 502.55,256.27 502.80,257.27 503.05,258.35 503.30,259.52 503.55,260.78 503.80,262.13 504.05,263.58 504.30,265.12 504.55,266.76 504.80,268.51 505.05,270.37 505.30,272.35 505.55,274.44 505.80,276.67 506.05,279.04 506.30,281.55 506.55,284.22 506.80,287.05 507.05,290.06 507.30,293.27 507.55,296.69 507.80,300.34 508.05,304.24 508.30,308.43 508.55,312.92 508.80,317.78 509.05,323.03 509.30,328.74 509.55,334.99 509.80,341.87 510.05,349.50 510.30,358.06 510.55,367.77 510.80,378.99 511.05,392.23 511.30,408.34 511.55,424.27 511.80,424.27 512.05,424.27 512.30,424.27 512.55,424.27 512.80,424.27 513.05,424.27 513.30,416.22 513.55,398.66 513.80,384.48 514.05,372.61 514.30,362.43 514.55,353.52 514.80,345.62 515.05,338.54 515.30,332.14 515.55,326.30 515.80,320.96 516.05,316.04 516.30,311.48 516.55,307.26 516.80,303.33 517.05,299.66 517.30,296.24 517.55,293.03 517.80,290.02 518.05,287.20 518.30,284.55 518.55,282.06 518.80,279.72 519.05,277.52 519.30,275.45 519.55,273.51 519.80,271.69 520.05,269.98 520.30,268.38 520.55,266.88 520.80,265.48 521.05,264.17 521.30,262.96 521.55,261.84 521.80,260.80 522.05,259.85 522.30,258.98 522.55,258.19 522.80,257.48 523.05,256.85 523.30,256.29 523.55,255.80 523.80,255.39 524.05,255.05 524.30,254.78 524.55,254.59 524.80,254.46 525.05,254.41 525.30,254.43 525.55,254.56 525.80,254.75 526.05,255.02 526.30,255.36 526.55,255.77 526.80,256.25 527.05,256.80 527.30,257.43 527.55,258.14 527.80,258.91 528.05,259.77 528.30,260.71 528.55,261.72 528.80,262.82 529.05,264.00 529.30,265.28 529.55,266.64 529.80,268.09 530.05,269.65 530.30,271.30 530.55,273.06 530.80,274.93 531.05,276.91 531.30,279.02 531.55,281.25 531.80,283.62 532.05,286.13 532.30,288.80 532.55,291.63 532.80,294.64 533.05,297.84 533.30,301.24 533.55,304.87 533.80,308.76 534.05,312.91 534.30,317.38 534.55,322.19 534.80,327.39 535.05,333.03 535.30,339.20 535.55,345.97 535.80,353.48 536.05,361.86"/>
<polyline stroke="#7E2F8E" stroke-dasharray="6.2 1.4 2.2 1.4" stroke-width="2.6" points="76.30,424.27 76.55,424.27 76.80,424.27 77.05,424.27 77.30,424.27 77.55,416.66 77.80,401.84 78.05,389.52 78.30,379.00 78.55,369.85 78.80,361.78 79.05,354.57 79.30,348.09 79.55,342.22 79.80,336.87 80.05,331.98 80.30,327.50 80.55,323.37 80.80,319.56 81.05,316.05 81.30,312.80 81.55,309.81 81.80,307.04 82.05,304.48 82.30,302.13 82.55,299.96 82.80,297.97 83.05,296.15 83.30,294.50 83.55,293.00 83.80,291.66 84.05,290.46 84.30,289.40 84.55,288.48 84.80,287.70 85.05,287.05 85.30,286.53 85.55,286.14 85.80,285.89 86.05,285.60 86.30,285.60 86.55,285.67 86.80,285.80 87.05,286.01 87.30,286.30 87.55,286.65 87.80,287.08 88.05,287.59 88.30,288.17 88.55,288.83 88.80,289.58 89.05,290.40 89.30,291.31 89.55,292.31 89.80,293.39 90.05,294.57 90.30,295.85 90.55,297.22 90.80,298.70 91.05,300.29 91.30,302.00 91.55,303.82 91.80,305.77 92.05,307.85 92.30,310.08 92.55,312.46 92.80,314.99 93.05,317.71 93.30,320.61 93.55,323.72 93.80,327.04 94.05,330.62 94.30,334.46 94.55,338.60 94.80,343.08 95.05,347.94 95.30,353.24 95.55,359.03 95.80,365.42 96.05,372.51 96.30,380.45 96.55,389.44 96.80,399.78 97.05,411.90 97.30,424.27 97.55,424.27 97.80,424.27 98.05,424.27 98.30,424.27 98.55,424.27 98.80,424.27 99.05,424.27 99.30,424.27 99.55,424.27 99.80,412.60 100.05,399.68 100.30,388.65 100.55,379.05 100.80,370.55 101.05,362.93 101.30,356.05 101.55,349.77 101.80,344.01 102.05,338.70 102.30,333.78 102.55,329.20 102.80,324.93 103.05,320.94 103.30,317.19 103.55,313.67 103.80,310.36 104.05,307.24 104.30,304.30 104.55,301.52 104.80,298.90 105.05,296.42 105.30,294.07 105.55,291.85 105.80,289.76 106.05,287.77 106.30,285.90 106.55,284.14 106.80,282.47 107.05,280.90 107.30,279.43 107.55,278.05 107.80,276.75 108.05,275.54 108.30,274.41 108.55,273.36 108.80,272.39 109.05,271.50 109.30,270.69 109.55,269.94 109.80,269.28 110.05,268.68 110.30,268.16 110.55,267.71 110.80,267.33 111.05,267.02 111.30,266.78 111.55,266.63 111.80,266.55 112.05,266.55 112.30,266.62 112.55,266.75 112.80,266.96 113.05,267.25 113.30,267.60 113.55,268.03 113.80,268.53 114.05,269.11 114.30,269.77 114.55,270.51 114.80,271.34 115.05,272.24 115.30,273.23 115.55,274.31 115.80,275.49 116.05,276.76 116.30,278.13 116.55,279.60 116.80,281.18 117.05,282.87 117.30,284.68 117.55,286.62 117.80,288.69 118.05,290.90 118.30,293.26 118.55,295.78 118.80,298.47 119.05,301.34 119.30,304.42 119.55,307.72 119.80,311.25 120.05,315.05 120.30,319.14 120.55,323.56 120.80,328.36 121.05,333.57 121.30,339.27 121.55,345.55 121.80,352.50 122.05,360.26 122.30,369.04 122.55,379.09 122.80,390.83 123.05,404.87 123.30,422.31 123.55,424.27 123.80,424.27 124.05,424.27 124.30,424.27 124.55,424.27 124.80,424.27 125.05,424.27 125.30,413.38 125.55,397.13 125.80,383.76 126.05,372.41 126.30,362.56 126.55,353.87 126.80,346.11 127.05,339.10 127.30,332.72 127.55,326.87 127.80,321.49 128.05,316.51 128.30,311.88 128.55,307.56 128.80,303.52 129.05,299.74 129.30,296.19 129.55,292.85 129.80,289.71 130.05,286.74 130.30,283.94 130.55,281.30 130.80,278.80 131.05,276.44 131.30,274.21 131.55,272.10 131.80,270.11 132.05,268.23 132.30,266.45 132.55,264.78 132.80,263.20 133.05,261.72 133.30,260.33 133.55,259.02 133.80,257.81 134.05,256.67 134.30,255.62 134.55,254.65 134.80,253.75 135.05,252.93 135.30,252.18 135.55,251.51 135.80,250.91 136.05,250.39 136.30,249.93 136.55,249.55 136.80,249.24 137.05,248.99 137.30,248.82 137.55,248.71 137.80,248.68 138.05,248.72 138.30,248.83 138.55,249.01 138.80,249.26 139.05,249.58 139.30,249.98 139.55,250.46 139.80,251.01 140.05,251.63 140.30,252.34 140.55,253.13 140.80,254.00 141.05,254.96 141.30,256.01 141.55,257.15 141.80,258.38 142.05,259.72 142.30,261.15 142.55,262.69 142.80,264.35 143.05,266.12 143.30,268.01 143.55,270.04 143.80,272.20 144.05,274.52 144.30,276.99 144.55,279.63 144.80,282.45 145.05,285.47 145.30,288.70 145.55,292.17 145.80,295.89 146.05,299.91 146.30,304.24 146.55,308.94 146.80,314.05 147.05,319.63 147.30,325.77 147.55,332.56 147.80,340.13 148.05,348.67 148.30,358.42 148.55,369.76 148.80,383.26 149.05,399.88 149.30,421.41 149.55,424.27 149.80,424.27 150.05,424.27 150.30,424.27 150.55,424.27 150.80,420.27 151.05,398.36 151.30,381.36 151.55,367.48 151.80,355.76 152.05,345.63 152.30,336.71 152.55,328.76 152.80,321.59 153.05,315.07 153.30,309.11 153.55,303.62 153.80,298.54 154.05,293.83 154.30,289.43 154.55,285.32 154.80,281.48 155.05,277.86 155.30,274.46 155.55,271.26 155.80,268.24 156.05,265.39 156.30,262.70 156.55,260.15 156.80,257.75 157.05,255.47 157.30,253.32 157.55,251.29 157.80,249.36 158.05,247.55 158.30,245.83 158.55,244.22 158.80,242.70 159.05,241.27 159.30,239.93 159.55,238.68 159.80,237.51 160.05,236.42 160.30,235.41 160.55,234.48 160.80,233.62 161.05,232.84 161.30,232.14 161.55,231.50 161.80,230.94 162.05,230.45 162.30,230.03 162.55,229.68 162.80,229.41 163.05,229.26 163.30,229.27 163.55,229.36 163.80,229.51 164.05,229.74 164.30,230.03 164.55,230.40 164.80,230.84 165.05,231.36 165.30,231.95 165.55,232.61 165.80,233.36 166.05,234.18 166.30,235.08 166.55,236.07 166.80,237.14 167.05,238.30 167.30,239.55 167.55,240.90 167.80,242.34 168.05,243.89 168.30,245.54 168.55,247.30 168.80,249.18 169.05,251.18 169.30,253.30 169.55,255.57 169.80,257.98 170.05,260.55 170.30,263.28 170.55,266.20 170.80,269.30 171.05,272.62 171.30,276.17 171.55,279.97 171.80,284.06 172.05,288.45 172.30,293.20 172.55,298.36 172.80,303.97 173.05,310.11 173.30,316.89 173.55,324.42 173.80,332.88 174.05,342.49 174.30,353.61 174.55,366.74 174.80,382.76 175.05,403.22 175.30,424.27 175.55,424.27 175.80,424.27 176.05,424.27 176.30,424.27 176.55,412.93 176.80,389.81 177.05,372.14 177.30,357.86 177.55,345.89 177.80,335.60 178.05,326.58 178.30,318.58 178.55,311.40 178.80,304.89 179.05,298.95 179.30,293.49 179.55,288.46 179.80,283.81 180.05,279.48 180.30,275.44 180.55,271.67 180.80,268.13 181.05,264.82 181.30,261.71 181.55,258.78 181.80,256.02 182.05,253.42 182.30,250.97 182.55,248.66 182.80,246.49 183.05,244.44 183.30,242.50 183.55,240.68 183.80,238.97 184.05,237.36 184.30,235.85 184.55,234.44 184.80,233.12 185.05,231.88 185.30,230.74 185.55,229.67 185.80,228.69 186.05,227.79 186.30,226.97 186.55,226.22 186.80,225.55 187.05,224.95 187.30,224.43 187.55,223.98 187.80,223.60 188.05,223.29 188.30,223.05 188.55,222.88 188.80,222.74 189.05,222.54 189.30,222.41 189.55,222.36 189.80,222.37 190.05,222.45 190.30,222.61 190.55,222.83 190.80,223.13 191.05,223.51 191.30,223.96 191.55,224.49 191.80,225.09 192.05,225.78 192.30,226.55 192.55,227.40 192.80,228.35 193.05,229.38 193.30,230.50 193.55,231.72 193.80,233.05 194.05,234.47 194.30,236.01 194.55,237.66 194.80,239.44 195.05,241.34 195.30,243.37 195.55,245.55 195.80,247.89 196.05,250.38 196.30,253.06 196.55,255.92 196.80,258.99 197.05,262.29 197.30,265.84 197.55,269.66 197.80,273.79 198.05,278.26 198.30,283.12 198.55,288.43 198.80,294.26 199.05,300.70 199.30,307.86 199.55,315.91 199.80,325.07 200.05,335.65 200.30,348.12 200.55,363.26 200.80,382.44 201.05,408.50 201.30,424.27 201.55,424.27 201.80,424.27 202.05,424.27 202.30,401.10 202.55,376.25 202.80,357.50 203.05,342.44 203.30,329.86 203.55,319.06 203.80,309.61 204.05,301.22 204.30,293.67 204.55,286.83 204.80,280.57 205.05,274.82 205.30,269.51 205.55,264.57 205.80,259.97 206.05,255.67 206.30,251.63 206.55,247.85 206.80,244.28 207.05,240.92 207.30,237.74 207.55,234.74 207.80,231.90 208.05,229.22 208.30,226.67 208.55,224.26 208.80,221.97 209.05,219.80 209.30,217.75 209.55,215.81 209.80,213.96 210.05,212.22 210.30,210.58 210.55,209.03 210.80,207.56 211.05,206.19 211.30,204.89 211.55,203.68 211.80,202.55 212.05,201.50 212.30,200.53 212.55,199.63 212.80,198.80 213.05,198.05 213.30,197.37 213.55,196.76 213.80,196.22 214.05,195.75 214.30,195.35 214.55,195.02 214.80,194.85 215.05,194.74 215.30,194.70 215.55,194.74 215.80,194.84 216.05,195.02 216.30,195.27 216.55,195.59 216.80,195.99 217.05,196.46 217.30,197.01 217.55,197.63 217.80,198.34 218.05,199.13 218.30,200.00 218.55,200.96 218.80,202.00 219.05,203.14 219.30,204.38 219.55,205.71 219.80,207.15 220.05,208.70 220.30,210.36 220.55,212.14 220.80,214.05 221.05,216.09 221.30,218.27 221.55,220.60 221.80,223.10 222.05,225.76 222.30,228.62 222.55,231.68 222.80,234.96 223.05,238.48 223.30,242.27 223.55,246.37 223.80,250.80 224.05,255.61 224.30,260.85 224.55,266.59 224.80,272.93 225.05,279.96 225.30,287.85 225.55,296.79 225.80,307.07 226.05,319.14 226.30,333.69 226.55,351.93 226.80,376.27 227.05,412.77 227.30,424.27 227.55,424.27 227.80,422.15 228.05,381.10 228.30,354.53 228.55,334.83 228.80,319.18 229.05,306.19 229.30,295.10 229.55,285.43 229.80,276.86 230.05,269.18 230.30,262.23 230.55,255.88 230.80,250.05 231.05,244.67 231.30,239.68 231.55,235.03 231.80,230.69 232.05,226.62 232.30,222.80 232.55,219.21 232.80,215.83 233.05,212.63 233.30,209.61 233.55,206.75 233.80,204.05 234.05,201.49 234.30,199.06 234.55,196.76 234.80,194.59 235.05,192.52 235.30,190.57 235.55,188.72 235.80,186.97 236.05,185.31 236.30,183.75 236.55,182.28 236.80,180.89 237.05,179.59 237.30,178.37 237.55,177.23 237.80,176.17 238.05,175.19 238.30,174.28 238.55,173.44 238.80,172.68 239.05,171.99 239.30,171.37 239.55,170.82 239.80,170.33 240.05,169.92 240.30,169.58 240.55,169.31 240.80,169.10 241.05,168.97 241.30,168.90 241.55,168.90 241.80,168.96 242.05,169.10 242.30,169.31 242.55,169.60 242.80,169.95 243.05,170.39 243.30,170.90 243.55,171.49 243.80,172.16 244.05,172.91 244.30,173.75 244.55,174.68 244.80,175.70 245.05,176.81 245.30,178.02 245.55,179.33 245.80,180.75 246.05,182.29 246.30,183.94 246.55,185.71 246.80,187.61 247.05,189.66 247.30,191.85 247.55,194.20 247.80,196.72 248.05,199.42 248.30,202.33 248.55,205.45 248.80,208.81 249.05,212.43 249.30,216.34 249.55,220.58 249.80,225.19 250.05,230.23 250.30,235.75 250.55,241.83 250.80,248.60 251.05,256.18 251.30,264.76 251.55,274.62 251.80,286.17 252.05,300.02 252.30,317.25 252.55,339.95 252.80,373.01 253.05,424.27 253.30,424.27 253.55,402.59 253.80,356.32 254.05,327.60 254.30,306.70 254.55,290.24 254.80,276.66 255.05,265.10 255.30,255.03 255.55,246.12 255.80,238.14 256.05,230.91 256.30,224.30 256.55,218.23 256.80,212.62 257.05,207.41 257.30,202.55 257.55,198.00 257.80,193.73 258.05,189.71 258.30,185.92 258.55,182.34 258.80,178.96 259.05,175.74 259.30,172.70 259.55,169.81 259.80,167.06 260.05,164.44 260.30,161.95 260.55,159.59 260.80,157.34 261.05,155.19 261.30,153.15 261.55,151.21 261.80,149.36 262.05,147.61 262.30,145.95 262.55,144.37 262.80,142.87 263.05,141.45 263.30,140.12 263.55,138.86 263.80,137.67 264.05,136.56 264.30,135.52 264.55,134.55 264.80,133.65 265.05,132.82 265.30,132.06 265.55,131.37 265.80,130.74 266.05,130.18 266.30,129.69 266.55,129.27 266.80,128.91 267.05,128.62 267.30,128.40 267.55,128.25 267.80,128.19 268.05,128.20 268.30,128.27 268.55,128.42 268.80,128.64 269.05,128.93 269.30,129.31 269.55,129.75 269.80,130.28 270.05,130.89 270.30,131.59 270.55,132.38 270.80,133.25 271.05,134.22 271.30,135.29 271.55,136.46 271.80,137.74 272.05,139.13 272.30,140.64 272.55,142.28 272.80,144.05 273.05,145.97 273.30,148.04 273.55,150.27 273.80,152.68 274.05,155.29 274.30,158.10 274.55,161.14 274.80,164.44 275.05,168.02 275.30,171.92 275.55,176.17 275.80,180.83 276.05,185.96 276.30,191.63 276.55,197.95 276.80,205.05 277.05,213.11 277.30,222.38 277.55,233.23 277.80,246.23 278.05,262.35 278.30,283.37 278.55,313.33 278.80,356.22 279.05,356.22 279.30,356.22 279.55,310.44 279.80,279.03 280.05,256.56 280.30,239.00 280.55,224.55 280.80,212.25 281.05,201.52 281.30,192.01 281.55,183.45 281.80,175.67 282.05,168.53 282.30,161.94 282.55,155.81 282.80,150.08 283.05,144.70 283.30,139.64 283.55,134.85 283.80,130.32 284.05,126.00 284.30,121.89 284.55,117.97 284.80,114.22 285.05,110.62 285.30,107.17 285.55,103.86 285.80,100.67 286.05,97.60 286.30,94.64 286.55,91.79 286.80,89.03 287.05,86.37 287.30,83.79 287.55,81.30 287.80,78.88 288.05,76.55 288.30,74.28 288.55,72.08 288.80,69.95 289.05,67.88 289.30,65.87 289.55,63.92 289.80,62.03 290.05,60.19 290.30,58.41 290.55,56.67 290.80,54.98 291.05,53.35 291.30,51.75 291.55,50.21 291.80,48.70 292.05,47.24 292.30,45.82 292.55,44.44 292.80,43.10 293.05,41.80 293.30,40.54 293.55,39.31 293.80,38.12 294.05,36.96 294.30,35.84 294.55,34.75 294.80,33.69 295.05,32.67 295.30,31.68 295.55,30.72 295.80,29.79 296.05,28.89 296.30,28.02 296.55,27.18 296.80,26.37 297.05,25.59 297.30,24.84 297.55,24.12 297.80,23.42 298.05,22.75 298.30,22.11 298.55,21.49 298.80,20.90 299.05,20.34 299.30,19.80 299.55,19.29 299.80,18.80 300.05,18.34 300.30,17.91 300.55,17.49 300.80,17.11 301.05,16.75 301.30,16.41 301.55,16.10 301.80,15.81 302.05,15.54 302.30,15.30 302.55,15.09 302.80,14.89 303.05,14.72 303.30,14.58 303.55,14.46 303.80,14.36 304.05,14.28 304.30,14.23 304.55,14.20 304.80,14.20 305.05,14.21 305.30,14.24 305.55,14.29 305.80,14.37 306.05,14.47 306.30,14.59 306.55,14.74 306.80,14.91 307.05,15.11 307.30,15.33 307.55,15.57 307.80,15.84 308.05,16.13 308.30,16.44 308.55,16.78 308.80,17.14 309.05,17.53 309.30,17.95 309.55,18.38 309.80,18.85 310.05,19.33 310.30,19.85 310.55,20.39 310.80,20.95 311.05,21.54 311.30,22.16 311.55,22.80 311.80,23.47 312.05,24.17 312.30,24.90 312.55,25.65 312.80,26.43 313.05,27.24 313.30,28.08 313.55,28.95 313.80,29.84 314.05,30.77 314.30,31.73 314.55,32.72 314.80,33.74 315.05,34.80 315.30,35.88 315.55,37.00 315.80,38.16 316.05,39.35 316.30,40.57 316.55,41.84 316.80,43.13 317.05,44.47 317.30,45.85 317.55,47.26 317.80,48.72 318.05,50.22 318.30,51.76 318.55,53.34 318.80,54.97 319.05,56.65 319.30,58.38 319.55,60.16 319.80,61.99 320.05,63.87 320.30,65.81 320.55,67.80 320.80,69.86 321.05,71.98 321.30,74.16 321.55,76.41 321.80,78.73 322.05,81.13 322.30,83.60 322.55,86.15 322.80,88.79 323.05,91.52 323.30,94.35 323.55,97.28 323.80,100.32 324.05,103.47 324.30,106.74 324.55,110.15 324.80,113.69 325.05,117.39 325.30,121.26 325.55,125.30 325.80,129.54 326.05,134.00 326.30,138.70 326.55,143.66 326.80,148.91 327.05,154.51 327.30,160.48 327.55,166.89 327.80,173.81 328.05,181.34 328.30,189.58 328.55,198.69 328.80,208.91 329.05,220.54 329.30,234.05 329.55,250.23 329.80,270.44 330.05,296.02 330.30,296.02 330.55,296.02 330.80,296.02 331.05,296.02 331.30,295.14 331.55,271.26 331.80,253.49 332.05,239.40 332.30,227.79 332.55,217.95 332.80,209.45 333.05,202.00 333.30,195.40 333.55,189.49 333.80,184.17 334.05,179.34 334.30,174.95 334.55,170.93 334.80,167.24 335.05,163.84 335.30,160.71 335.55,157.82 335.80,155.14 336.05,152.67 336.30,150.38 336.55,148.26 336.80,146.29 337.05,144.47 337.30,142.80 337.55,141.25 337.80,139.82 338.05,138.51 338.30,137.30 338.55,136.21 338.80,135.21 339.05,134.31 339.30,133.50 339.55,132.78 339.80,132.15 340.05,131.60 340.30,131.13 340.55,130.74 340.80,130.43 341.05,130.19 341.30,130.02 341.55,129.93 341.80,129.91 342.05,129.96 342.30,130.08 342.55,130.27 342.80,130.54 343.05,130.87 343.30,131.28 343.55,131.74 343.80,132.28 344.05,132.88 344.30,133.55 344.55,134.29 344.80,135.10 345.05,135.97 345.30,136.92 345.55,137.93 345.80,139.02 346.05,140.18 346.30,141.41 346.55,142.73 346.80,144.11 347.05,145.58 347.30,147.13 347.55,148.77 347.80,150.49 348.05,152.30 348.30,154.21 348.55,156.21 348.80,158.32 349.05,160.53 349.30,162.86 349.55,165.30 349.80,167.86 350.05,170.56 350.30,173.40 350.55,176.39 350.80,179.54 351.05,182.86 351.30,186.36 351.55,190.07 351.80,194.00 352.05,198.17 352.30,202.61 352.55,207.34 352.80,212.41 353.05,217.86 353.30,223.75 353.55,230.13 353.80,237.10 354.05,244.77 354.30,253.29 354.55,262.86 354.80,273.78 355.05,286.48 355.30,301.65 355.55,320.52 355.80,328.30 356.05,328.30 356.30,328.30 356.55,328.30 356.80,328.30 357.05,328.30 357.30,327.50 357.55,308.42 357.80,293.39 358.05,281.02 358.30,270.55 358.55,261.49 358.80,253.54 359.05,246.48 359.30,240.14 359.55,234.40 359.80,229.19 360.05,224.42 360.30,220.04 360.55,216.01 360.80,212.27 361.05,208.82 361.30,205.61 361.55,202.62 361.80,199.85 362.05,197.26 362.30,194.85 362.55,192.60 362.80,190.50 363.05,188.54 363.30,186.72 363.55,185.03 363.80,183.46 364.05,182.00 364.30,180.64 364.55,179.40 364.80,178.25 365.05,177.20 365.30,176.24 365.55,175.37 365.80,174.59 366.05,173.89 366.30,173.27 366.55,172.73 366.80,172.27 367.05,171.89 367.30,171.58 367.55,171.34 367.80,171.18 368.05,171.09 368.30,171.07 368.55,171.11 368.80,171.23 369.05,171.41 369.30,171.66 369.55,171.98 369.80,172.36 370.05,172.82 370.30,173.35 370.55,173.94 370.80,174.61 371.05,175.35 371.30,176.16 371.55,177.04 371.80,178.00 372.05,179.04 372.30,180.15 372.55,181.34 372.80,182.61 373.05,183.97 373.30,185.41 373.55,186.94 373.80,188.56 374.05,190.28 374.30,192.09 374.55,194.01 374.80,196.03 375.05,198.17 375.30,200.42 375.55,202.80 375.80,205.31 376.05,207.96 376.30,210.76 376.55,213.71 376.80,216.84 377.05,220.15 377.30,223.67 377.55,227.40 377.80,231.36 378.05,235.60 378.30,240.12 378.55,244.98 378.80,250.20 379.05,255.85 379.30,261.98 379.55,268.68 379.80,276.06 380.05,284.25 380.30,293.46 380.55,303.94 380.80,316.10 381.05,330.57 381.30,348.42 381.55,371.74 381.80,405.42 382.05,424.27 382.30,424.27 382.55,424.27 382.80,391.23 383.05,363.14 383.30,342.87 383.55,327.04 383.80,314.08 384.05,303.15 384.30,293.72 384.55,285.45 384.80,278.10 385.05,271.50 385.30,265.54 385.55,260.11 385.80,255.14 386.05,250.56 386.30,246.35 386.55,242.44 386.80,238.82 387.05,235.45 387.30,232.30 387.55,229.37 387.80,226.64 388.05,224.08 388.30,221.69 388.55,219.45 388.80,217.36 389.05,215.41 389.30,213.58 389.55,211.88 389.80,210.29 390.05,208.81 390.30,207.44 390.55,206.17 390.80,204.99 391.05,203.91 391.30,202.92 391.55,202.02 391.80,201.21 392.05,200.47 392.30,199.82 392.55,199.24 392.80,198.75 393.05,198.32 393.30,197.98 393.55,197.70 393.80,197.50 394.05,197.37 394.30,197.31 394.55,197.32 394.80,197.41 395.05,197.56 395.30,197.75 395.55,197.98 395.80,198.29 396.05,198.66 396.30,199.11 396.55,199.63 396.80,200.21 397.05,200.88 397.30,201.61 397.55,202.42 397.80,203.31 398.05,204.27 398.30,205.31 398.55,206.44 398.80,207.65 399.05,208.94 399.30,210.32 399.55,211.79 399.80,213.36 400.05,215.02 400.30,216.79 400.55,218.66 400.80,220.65 401.05,222.75 401.30,224.98 401.55,227.33 401.80,229.83 402.05,232.47 402.30,235.27 402.55,238.24 402.80,241.39 403.05,244.74 403.30,248.30 403.55,252.09 403.80,256.15 404.05,260.49 404.30,265.15 404.55,270.18 404.80,275.61 405.05,281.52 405.30,287.98 405.55,295.10 405.80,303.00 406.05,311.86 406.30,321.94 406.55,333.60 406.80,347.43 407.05,364.37 407.30,386.22 407.55,417.02 407.80,424.27 408.05,424.27 408.30,424.27 408.55,417.56 408.80,387.02 409.05,365.43 409.30,348.76 409.55,335.20 409.80,323.80 410.05,313.98 410.30,305.39 410.55,297.75 410.80,290.91 411.05,284.71 411.30,279.07 411.55,273.90 411.80,269.14 412.05,264.75 412.30,260.67 412.55,256.88 412.80,253.35 413.05,250.06 413.30,246.98 413.55,244.09 413.80,241.39 414.05,238.86 414.30,236.48 414.55,234.26 414.80,232.17 415.05,230.21 415.30,228.37 415.55,226.66 415.80,225.05 416.05,223.55 416.30,222.15 416.55,220.85 416.80,219.65 417.05,218.54 417.30,217.51 417.55,216.57 417.80,215.72 418.05,214.95 418.30,214.25 418.55,213.64 418.80,213.10 419.05,212.63 419.30,212.24 419.55,211.92 419.80,211.67 420.05,211.50 420.30,211.39 420.55,211.36 420.80,211.39 421.05,211.57 421.30,211.91 421.55,212.33 421.80,212.81 422.05,213.37 422.30,213.99 422.55,214.69 422.80,215.46 423.05,216.31 423.30,217.23 423.55,218.22 423.80,219.29 424.05,220.45 424.30,221.68 424.55,222.99 424.80,224.40 425.05,225.88 425.30,227.46 425.55,229.14 425.80,230.91 426.05,232.78 426.30,234.76 426.55,236.85 426.80,239.06 427.05,241.39 427.30,243.84 427.55,246.44 427.80,249.18 428.05,252.07 428.30,255.14 428.55,258.38 428.80,261.81 429.05,265.46 429.30,269.33 429.55,273.47 429.80,277.88 430.05,282.60 430.30,287.68 430.55,293.16 430.80,299.10 431.05,305.57 431.30,312.68 431.55,320.53 431.80,329.32 432.05,339.26 432.30,350.70 432.55,364.17 432.80,380.51 433.05,401.30 433.30,424.27 433.55,424.27 433.80,424.27 434.05,424.27 434.30,424.27 434.55,412.98 434.80,390.18 435.05,372.84 435.30,358.88 435.55,347.24 435.80,337.28 436.05,328.59 436.30,320.92 436.55,314.06 436.80,307.88 437.05,302.27 437.30,297.14 437.55,292.44 437.80,288.11 438.05,284.11 438.30,280.40 438.55,276.95 438.80,273.75 439.05,270.76 439.30,267.98 439.55,265.38 439.80,262.95 440.05,260.68 440.30,258.56 440.55,256.58 440.80,254.73 441.05,253.01 441.30,251.40 441.55,249.91 441.80,248.53 442.05,247.25 442.30,246.07 442.55,244.98 442.80,243.99 443.05,243.08 443.30,242.27 443.55,241.53 443.80,240.88 444.05,240.31 444.30,239.81 444.55,239.40 444.80,239.06 445.05,238.79 445.30,238.59 445.55,238.47 445.80,238.42 446.05,238.44 446.30,238.53 446.55,238.69 446.80,238.89 447.05,239.03 447.30,239.24 447.55,239.52 447.80,239.87 448.05,240.30 448.30,240.79 448.55,241.36 448.80,242.00 449.05,242.71 449.30,243.50 449.55,244.37 449.80,245.32 450.05,246.35 450.30,247.46 450.55,248.65 450.80,249.93 451.05,251.31 451.30,252.77 451.55,254.34 451.80,256.00 452.05,257.77 452.30,259.65 452.55,261.64 452.80,263.76 453.05,266.00 453.30,268.38 453.55,270.90 453.80,273.58 454.05,276.42 454.30,279.44 454.55,282.65 454.80,286.06 455.05,289.70 455.30,293.60 455.55,297.76 455.80,302.23 456.05,307.05 456.30,312.26 456.55,317.92 456.80,324.09 457.05,330.87 457.30,338.38 457.55,346.78 457.80,356.28 458.05,367.20 458.30,380.02 458.55,395.51 458.80,415.04 459.05,424.27 459.30,424.27 459.55,424.27 459.80,424.27 460.05,424.27 460.30,424.27 460.55,411.28 460.80,392.88 461.05,378.17 461.30,365.94 461.55,355.50 461.80,346.40 462.05,338.35 462.30,331.16 462.55,324.67 462.80,318.77 463.05,313.36 463.30,308.40 463.55,303.81 463.80,299.57 464.05,295.62 464.30,291.94 464.55,288.50 464.80,285.29 465.05,282.28 465.30,279.46 465.55,276.82 465.80,274.33 466.05,272.00 466.30,269.81 466.55,267.75 466.80,265.82 467.05,264.01 467.30,262.32 467.55,260.73 467.80,259.25 468.05,257.86 468.30,256.58 468.55,255.38 468.80,254.28 469.05,253.26 469.30,252.33 469.55,251.48 469.80,250.71 470.05,250.02 470.30,249.41 470.55,248.87 470.80,248.40 471.05,248.01 471.30,247.69 471.55,247.45 471.80,247.27 472.05,247.17 472.30,247.13 472.55,247.17 472.80,247.32 473.05,247.53 473.30,247.82 473.55,248.18 473.80,248.61 474.05,249.11 474.30,249.69 474.55,250.34 474.80,251.06 475.05,251.86 475.30,252.73 475.55,253.69 475.80,254.72 476.05,255.84 476.30,257.04 476.55,258.32 476.80,259.70 477.05,261.17 477.30,262.74 477.55,264.41 477.80,266.18 478.05,268.06 478.30,270.05 478.55,272.16 478.80,274.41 479.05,276.78 479.30,279.30 479.55,281.96 479.80,284.79 480.05,287.80 480.30,290.99 480.55,294.39 480.80,298.01 481.05,301.87 481.30,306.00 481.55,310.43 481.80,315.20 482.05,320.35 482.30,325.94 482.55,332.03 482.80,338.70 483.05,346.08 483.30,354.31 483.55,363.59 483.80,374.22 484.05,386.64 484.30,401.53 484.55,420.12 484.80,424.27 485.05,424.27 485.30,424.27 485.55,424.27 485.80,424.27 486.05,424.27 486.30,424.27 486.55,405.82 486.80,390.52 487.05,377.89 487.30,367.15 487.55,357.84 487.80,349.63 488.05,342.30 488.30,335.70 488.55,329.72 488.80,324.25 489.05,319.22 489.30,314.59 489.55,310.30 489.80,306.32 490.05,302.62 490.30,299.16 490.55,295.93 490.80,292.91 491.05,290.08 491.30,287.43 491.55,284.94 491.80,282.60 492.05,280.41 492.30,278.35 492.55,276.43 492.80,274.62 493.05,272.93 493.30,271.34 493.55,269.87 493.80,268.49 494.05,267.21 494.30,266.03 494.55,264.93 494.80,263.92 495.05,263.00 495.30,262.16 495.55,261.40 495.80,260.72 496.05,260.12 496.30,259.59 496.55,259.14 496.80,258.76 497.05,258.46 497.30,258.22 497.55,258.06 497.80,257.97 498.05,257.95 498.30,258.00 498.55,258.07 498.80,258.21 499.05,258.42 499.30,258.70 499.55,259.05 499.80,259.47 500.05,259.97 500.30,260.53 500.55,261.18 500.80,261.89 501.05,262.69 501.30,263.56 501.55,264.51 501.80,265.55 502.05,266.66 502.30,267.87 502.55,269.16 502.80,270.55 503.05,272.03 503.30,273.61 503.55,275.30 503.80,277.09 504.05,279.00 504.30,281.02 504.55,283.17 504.80,285.45 505.05,287.88 505.30,290.45 505.55,293.18 505.80,296.09 506.05,299.17 506.30,302.46 506.55,305.97 506.80,309.72 507.05,313.73 507.30,318.04 507.55,322.67 507.80,327.68 508.05,333.11 508.30,339.02 508.55,345.51 508.80,352.67 509.05,360.65 509.30,369.64 509.55,379.91 509.80,391.86 510.05,406.12 510.30,423.76 510.55,424.27 510.80,424.27 511.05,424.27 511.30,424.27 511.55,424.27 511.80,424.27 512.05,424.27 512.30,416.54 512.55,400.51 512.80,387.35 513.05,376.22 513.30,366.58 513.55,358.11 513.80,350.56 514.05,343.76 514.30,337.59 514.55,331.96 514.80,326.79 515.05,322.02 515.30,317.61 515.55,313.51 515.80,309.69 516.05,306.12 516.30,302.78 516.55,299.66 516.80,296.73 517.05,293.98 517.30,291.39 517.55,288.96 517.80,286.68 518.05,284.53 518.30,282.52 518.55,280.62 518.80,278.84 519.05,277.18 519.30,275.62 519.55,274.16 519.80,272.80 520.05,271.53 520.30,270.35 520.55,269.27 520.80,268.27 521.05,267.35 521.30,266.51 521.55,265.75 521.80,265.07 522.05,264.47 522.30,263.94 522.55,263.48 522.80,263.10 523.05,262.79 523.30,262.55 523.55,262.38 523.80,262.28 524.05,262.26 524.30,262.33 524.55,262.49 524.80,262.73 525.05,263.03 525.30,263.41 525.55,263.85 525.80,264.37 526.05,264.96 526.30,265.63 526.55,266.37 526.80,267.19 527.05,268.09 527.30,269.06 527.55,270.12 527.80,271.26 528.05,272.49 528.30,273.80 528.55,275.21 528.80,276.71 529.05,278.31 529.30,280.02 529.55,281.83 529.80,283.75 530.05,285.79 530.30,287.95 530.55,290.25 530.80,292.68 531.05,295.27 531.30,298.00 531.55,300.91 531.80,304.00 532.05,307.29 532.30,310.79 532.55,314.53 532.80,318.53 533.05,322.81 533.30,327.42 533.55,332.39 533.80,337.77 534.05,343.62 534.30,350.03 534.55,357.08 534.80,364.93 535.05,373.74 535.30,383.76 535.55,395.37 535.80,409.14 536.05,424.27"/>
</g>
<rect x="77.30" y="14.20" width="457.90" height="349.00" fill="none" stroke="#111" stroke-width="2.2"/>
<g stroke="#111" stroke-width="1.8">
<line x1="77.3" y1="57.83" x2="82.7" y2="57.83"/>
<line x1="535.2" y1="57.83" x2="529.8" y2="57.83"/>
<line x1="77.3" y1="101.45" x2="82.7" y2="101.45"/>
<line x1="535.2" y1="101.45" x2="529.8" y2="101.45"/>
<line x1="77.3" y1="145.07" x2="82.7" y2="145.07"/>
<line x1="535.2" y1="145.07" x2="529.8" y2="145.07"/>
<line x1="77.3" y1="188.70" x2="82.7" y2="188.70"/>
<line x1="535.2" y1="188.70" x2="529.8" y2="188.70"/>
<line x1="77.3" y1="232.32" x2="82.7" y2="232.32"/>
<line x1="535.2" y1="232.32" x2="529.8" y2="232.32"/>
<line x1="77.3" y1="275.95" x2="82.7" y2="275.95"/>
<line x1="535.2" y1="275.95" x2="529.8" y2="275.95"/>
<line x1="77.3" y1="319.57" x2="82.7" y2="319.57"/>
<line x1="535.2" y1="319.57" x2="529.8" y2="319.57"/>
<line x1="306.00" y1="363.2" x2="306.00" y2="357.8"/>
<line x1="306.00" y1="14.2" x2="306.00" y2="19.6"/>
</g>
<text class="tk" x="59.15" y="19.30">0</text>
<text class="tk" transform="translate(44.00,63.53) scale(1.280,1)">−</text><text class="tk" x="59.15" y="62.93">5</text>
<text class="tk" transform="translate(33.75,107.15) scale(1.280,1)">−</text><text class="tk" x="48.90" y="106.55">10</text>
<text class="tk" transform="translate(33.75,150.77) scale(1.280,1)">−</text><text class="tk" x="48.90" y="150.17">15</text>
<text class="tk" transform="translate(33.75,194.40) scale(1.280,1)">−</text><text class="tk" x="48.90" y="193.80">20</text>
<text class="tk" transform="translate(33.75,238.02) scale(1.280,1)">−</text><text class="tk" x="48.90" y="237.42">25</text>
<text class="tk" transform="translate(33.75,281.65) scale(1.280,1)">−</text><text class="tk" x="48.90" y="281.05">30</text>
<text class="tk" transform="translate(33.75,325.28) scale(1.280,1)">−</text><text class="tk" x="48.90" y="324.68">35</text>
<text class="tk" transform="translate(33.75,368.90) scale(1.280,1)">−</text><text class="tk" x="48.90" y="368.30">40</text>
<text class="tk" transform="translate(59.25,389.10) scale(1.280,1)">−</text><text class="tk" x="74.40" y="388.50">50</text>
<text class="tk" x="301.18" y="388.50">0</text>
<text class="tk" x="525.25" y="388.50">50</text>
<text class="lb" x="304.9" y="418.3" text-anchor="middle" textLength="109.6" lengthAdjust="spacing">Azimuth/m</text>
<text class="lb" transform="translate(22.2,190.4) rotate(-90)" text-anchor="middle" textLength="135.6" lengthAdjust="spacing">Amplitude/dB</text>
<rect x="350.1" y="25.7" width="173.8" height="69.5" fill="#fff" stroke="#111" stroke-width="2.1"/>
<line x1="353.8" y1="35.4" x2="396.3" y2="35.4" stroke="#0072BD" stroke-width="2.3"/>
<text class="lg" x="400.2" y="40.7">ABP, 4 iterations</text>
<line x1="353.8" y1="52.0" x2="396.3" y2="52.0" stroke="#D95319" stroke-width="2.3" stroke-dasharray="8 6.5"/>
<text class="lg" x="400.2" y="57.3">NABP, 4 iterations</text>
<line x1="353.8" y1="68.6" x2="396.3" y2="68.6" stroke="#EDB120" stroke-width="2.3" stroke-dasharray="2 1.33"/>
<text class="lg" x="400.2" y="73.9">NABP, 15 iterations</text>
<line x1="353.8" y1="85.2" x2="396.3" y2="85.2" stroke="#7E2F8E" stroke-width="2.3" stroke-dasharray="6.2 1.4 2.2 1.4"/>
<text class="lg" x="400.2" y="90.5">NABP, 31 iterations</text>
</svg></body></html>
